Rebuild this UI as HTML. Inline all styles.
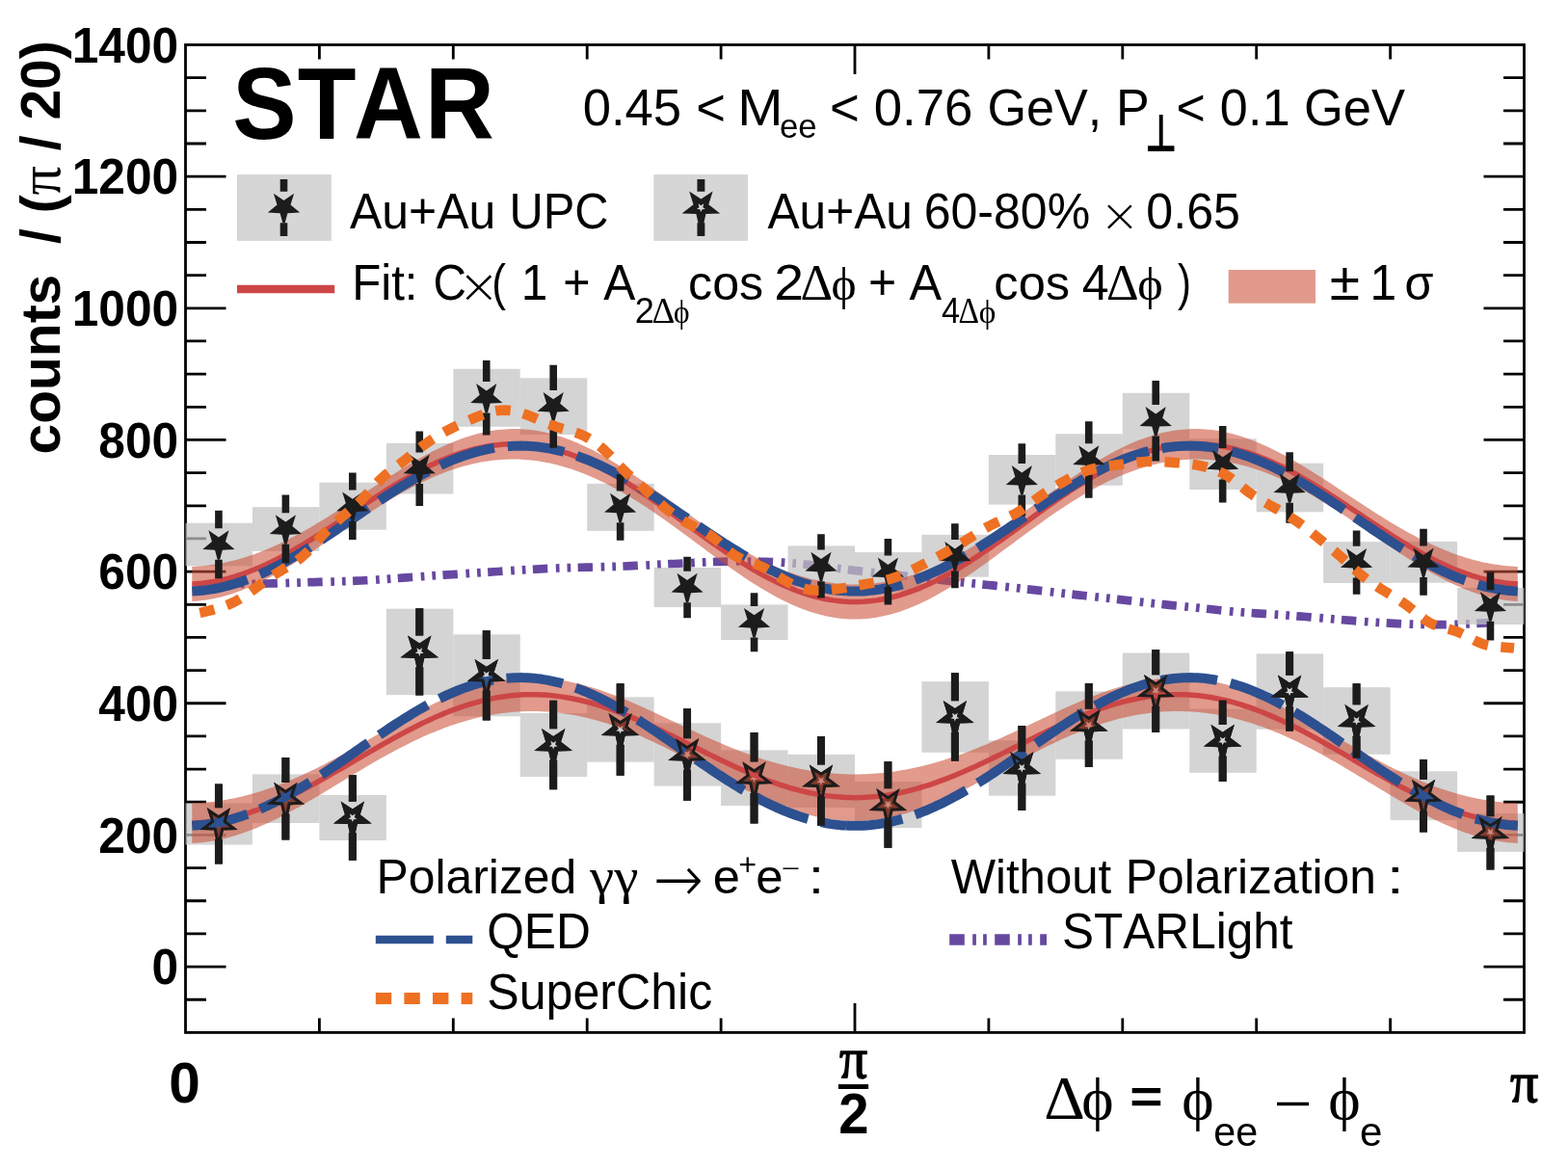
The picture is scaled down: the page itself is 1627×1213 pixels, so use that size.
<!DOCTYPE html>
<html lang="en">
<head>
<meta charset="utf-8">
<title>STAR azimuthal modulation</title>
<style>
html,body{margin:0;padding:0;background:#fff;}
body{width:1627px;height:1213px;overflow:hidden;}
svg{display:block;}
text{white-space:pre;}
</style>
</head>
<body>
<svg width="1627" height="1213" viewBox="0 0 1627 1213" role="img" aria-label="STAR azimuthal modulation plot">
<defs><path id="sf" d="M-10.6 -14.7 L0 -7.4 L10.6 -14.7 L7 -3 L16.6 5.1 L3.9 5.8 L1.2 15.8 L-1.2 15.8 L-3.9 5.8 L-16.6 5.1 L-7 -3Z" fill="#1c1c1c"/><path id="so1" d="M-12.2 -16.9 L0 -9 L12.2 -16.9 L7.9 -3.2 L19.8 5.9 L5 6.6 L2.7 17 L-2.7 17 L-5 6.6 L-19.8 5.9 L-7.9 -3.2ZM-2.9 -4.2 L0 -2.2 L2.9 -4.2 L1.9 -0.6 L4.4 1.5 L1.1 1.7 L0 4.6 L-1.1 1.7 L-4.4 1.5 L-1.9 -0.6Z" fill="#1c1c1c" fill-rule="evenodd"/><path id="so2" d="M-12.2 -16.9 L0 -9 L12.2 -16.9 L7.9 -3.2 L19.8 5.9 L5 6.6 L2.7 17 L-2.7 17 L-5 6.6 L-19.8 5.9 L-7.9 -3.2ZM-6.85 -9.86 L0 -5.43 L6.85 -9.86 L4.41 -2.09 L11.45 3.29 L2.57 3.71 L0.29 14 L-0.29 14 L-2.57 3.71 L-11.45 3.29 L-4.41 -2.09Z" fill="#1c1c1c" fill-rule="evenodd"/></defs>
<rect x="0" y="0" width="1627" height="1213" fill="#ffffff"/>
<g id="axes" stroke="#000000" stroke-width="2.8" fill="none" stroke-linecap="butt">
<rect x="192.5" y="46.5" width="1389" height="1024.9"/>
<path d="M192.5 1037.24h21.5M1581.5 1037.24h-21.5M192.5 1003.07h42M1581.5 1003.07h-42M192.5 968.91h21.5M1581.5 968.91h-21.5M192.5 934.75h21.5M1581.5 934.75h-21.5M192.5 900.58h21.5M1581.5 900.58h-21.5M192.5 866.42h42M1581.5 866.42h-42M192.5 832.26h21.5M1581.5 832.26h-21.5M192.5 798.09h21.5M1581.5 798.09h-21.5M192.5 763.93h21.5M1581.5 763.93h-21.5M192.5 729.77h42M1581.5 729.77h-42M192.5 695.6h21.5M1581.5 695.6h-21.5M192.5 661.44h21.5M1581.5 661.44h-21.5M192.5 627.28h21.5M1581.5 627.28h-21.5M192.5 593.11h42M1581.5 593.11h-42M192.5 558.95h21.5M1581.5 558.95h-21.5M192.5 524.79h21.5M1581.5 524.79h-21.5M192.5 490.62h21.5M1581.5 490.62h-21.5M192.5 456.46h42M1581.5 456.46h-42M192.5 422.3h21.5M1581.5 422.3h-21.5M192.5 388.13h21.5M1581.5 388.13h-21.5M192.5 353.97h21.5M1581.5 353.97h-21.5M192.5 319.81h42M1581.5 319.81h-42M192.5 285.64h21.5M1581.5 285.64h-21.5M192.5 251.48h21.5M1581.5 251.48h-21.5M192.5 217.32h21.5M1581.5 217.32h-21.5M192.5 183.15h42M1581.5 183.15h-42M192.5 148.99h21.5M1581.5 148.99h-21.5M192.5 114.83h21.5M1581.5 114.83h-21.5M192.5 80.66h21.5M1581.5 80.66h-21.5M331.4 1071.4v-15M331.4 46.5v15M470.3 1071.4v-15M470.3 46.5v15M609.2 1071.4v-15M609.2 46.5v15M748.1 1071.4v-15M748.1 46.5v15M887 1071.4v-30.5M887 46.5v30.5M1025.9 1071.4v-15M1025.9 46.5v15M1164.8 1071.4v-15M1164.8 46.5v15M1303.7 1071.4v-15M1303.7 46.5v15M1442.6 1071.4v-15M1442.6 46.5v15"/>
</g>
<path id="starlight" d="M248 606 L252.34 605.97 L256.68 605.93 L261.02 605.87 L265.36 605.8 L269.71 605.72 L274.05 605.62 L278.39 605.52 L282.73 605.4 L287.07 605.28 L291.41 605.15 L295.75 605.02 L300.09 604.89 L304.43 604.75 L308.78 604.61 L313.12 604.47 L317.46 604.33 L321.8 604.2 L326.14 604.07 L330.48 603.94 L334.82 603.82 L339.16 603.7 L343.51 603.57 L347.85 603.45 L352.19 603.32 L356.53 603.18 L360.87 603.03 L365.21 602.87 L369.55 602.69 L373.89 602.5 L378.23 602.28 L382.58 602.05 L386.92 601.79 L391.26 601.51 L395.6 601.22 L399.94 600.92 L404.28 600.61 L408.62 600.29 L412.96 599.97 L417.3 599.65 L421.65 599.32 L425.99 599 L430.33 598.69 L434.67 598.38 L439.01 598.08 L443.35 597.78 L447.69 597.49 L452.03 597.2 L456.37 596.92 L460.72 596.63 L465.06 596.35 L469.4 596.08 L473.74 595.8 L478.08 595.52 L482.42 595.24 L486.76 594.96 L491.1 594.68 L495.44 594.4 L499.79 594.12 L504.13 593.84 L508.47 593.56 L512.81 593.28 L517.15 592.99 L521.49 592.71 L525.83 592.43 L530.17 592.15 L534.52 591.87 L538.86 591.59 L543.2 591.32 L547.54 591.05 L551.88 590.8 L556.22 590.55 L560.56 590.31 L564.9 590.09 L569.24 589.88 L573.59 589.69 L577.93 589.52 L582.27 589.36 L586.61 589.22 L590.95 589.1 L595.29 588.98 L599.63 588.87 L603.97 588.77 L608.31 588.66 L612.66 588.56 L617 588.45 L621.34 588.34 L625.68 588.22 L630.02 588.09 L634.36 587.95 L638.7 587.81 L643.04 587.66 L647.38 587.5 L651.73 587.33 L656.07 587.15 L660.41 586.97 L664.75 586.77 L669.09 586.57 L673.43 586.35 L677.77 586.14 L682.11 585.91 L686.45 585.68 L690.8 585.45 L695.14 585.21 L699.48 584.97 L703.82 584.74 L708.16 584.51 L712.5 584.28 L716.84 584.05 L721.18 583.84 L725.53 583.63 L729.87 583.43 L734.21 583.24 L738.55 583.07 L742.89 582.92 L747.23 582.79 L751.57 582.67 L755.91 582.58 L760.25 582.52 L764.6 582.48 L768.94 582.46 L773.28 582.47 L777.62 582.51 L781.96 582.57 L786.3 582.65 L790.64 582.76 L794.98 582.89 L799.32 583.05 L803.67 583.24 L808.01 583.46 L812.35 583.71 L816.69 583.99 L821.03 584.3 L825.37 584.66 L829.71 585.05 L834.05 585.48 L838.39 585.94 L842.74 586.44 L847.08 586.95 L851.42 587.49 L855.76 588.04 L860.1 588.6 L864.44 589.17 L868.78 589.74 L873.12 590.3 L877.46 590.85 L881.81 591.38 L886.15 591.9 L890.49 592.41 L894.83 592.9 L899.17 593.38 L903.51 593.86 L907.85 594.32 L912.19 594.78 L916.54 595.24 L920.88 595.7 L925.22 596.16 L929.56 596.62 L933.9 597.08 L938.24 597.54 L942.58 598.02 L946.92 598.5 L951.26 598.98 L955.61 599.47 L959.95 599.95 L964.29 600.44 L968.63 600.93 L972.97 601.42 L977.31 601.91 L981.65 602.4 L985.99 602.88 L990.33 603.36 L994.68 603.84 L999.02 604.3 L1003.36 604.76 L1007.7 605.22 L1012.04 605.66 L1016.38 606.11 L1020.72 606.55 L1025.06 606.98 L1029.4 607.42 L1033.75 607.86 L1038.09 608.3 L1042.43 608.75 L1046.77 609.21 L1051.11 609.67 L1055.45 610.15 L1059.79 610.63 L1064.13 611.13 L1068.47 611.63 L1072.82 612.13 L1077.16 612.64 L1081.5 613.15 L1085.84 613.66 L1090.18 614.17 L1094.52 614.67 L1098.86 615.17 L1103.2 615.67 L1107.55 616.15 L1111.89 616.63 L1116.23 617.11 L1120.57 617.58 L1124.91 618.04 L1129.25 618.51 L1133.59 618.98 L1137.93 619.45 L1142.27 619.92 L1146.62 620.39 L1150.96 620.87 L1155.3 621.36 L1159.64 621.85 L1163.98 622.35 L1168.32 622.85 L1172.66 623.35 L1177 623.85 L1181.34 624.35 L1185.69 624.85 L1190.03 625.34 L1194.37 625.82 L1198.71 626.29 L1203.05 626.75 L1207.39 627.2 L1211.73 627.65 L1216.07 628.08 L1220.41 628.51 L1224.76 628.94 L1229.1 629.37 L1233.44 629.8 L1237.78 630.23 L1242.12 630.67 L1246.46 631.12 L1250.8 631.58 L1255.14 632.05 L1259.48 632.53 L1263.83 633 L1268.17 633.47 L1272.51 633.91 L1276.85 634.33 L1281.19 634.72 L1285.53 635.08 L1289.87 635.42 L1294.21 635.73 L1298.56 636.03 L1302.9 636.32 L1307.24 636.6 L1311.58 636.87 L1315.92 637.14 L1320.26 637.42 L1324.6 637.71 L1328.94 638 L1333.28 638.31 L1337.63 638.63 L1341.97 638.96 L1346.31 639.3 L1350.65 639.64 L1354.99 639.99 L1359.33 640.35 L1363.67 640.71 L1368.01 641.08 L1372.35 641.44 L1376.7 641.81 L1381.04 642.18 L1385.38 642.54 L1389.72 642.9 L1394.06 643.26 L1398.4 643.62 L1402.74 643.96 L1407.08 644.3 L1411.42 644.64 L1415.77 644.96 L1420.11 645.27 L1424.45 645.57 L1428.79 645.86 L1433.13 646.13 L1437.47 646.39 L1441.81 646.63 L1446.15 646.86 L1450.49 647.07 L1454.84 647.27 L1459.18 647.44 L1463.52 647.6 L1467.86 647.73 L1472.2 647.85 L1476.54 647.94 L1480.88 648.02 L1485.22 648.07 L1489.57 648.09 L1493.91 648.09 L1498.25 648.07 L1502.59 648.02 L1506.93 647.95 L1511.27 647.85 L1515.61 647.72 L1519.95 647.56 L1524.29 647.38 L1528.64 647.16 L1532.98 646.92 L1537.32 646.64 L1541.66 646.34 L1546 646" fill="none" stroke="#6648a0" stroke-width="8.7" stroke-dasharray="15.4 8.6 3.7 8 3.7 7.4" stroke-dashoffset="-24.5"/>
<g id="sysboxes" fill="#c4c4c4" fill-opacity="0.72">
<rect x="192.5" y="542.7" width="69.45" height="44.6"/>
<rect x="261.95" y="526.1" width="69.45" height="45.8"/>
<rect x="331.4" y="500.7" width="69.45" height="49"/>
<rect x="400.85" y="459.9" width="69.45" height="52.6"/>
<rect x="470.3" y="382.8" width="69.45" height="60"/>
<rect x="539.75" y="392.3" width="69.45" height="58.8"/>
<rect x="609.2" y="501.9" width="69.45" height="49"/>
<rect x="678.65" y="589" width="69.45" height="41"/>
<rect x="748.1" y="627.4" width="69.45" height="36.6"/>
<rect x="817.55" y="566.4" width="69.45" height="42"/>
<rect x="887" y="573.1" width="69.45" height="40.4"/>
<rect x="956.45" y="554.9" width="69.45" height="43.8"/>
<rect x="1025.9" y="472" width="69.45" height="51.6"/>
<rect x="1095.35" y="450.2" width="69.45" height="53.6"/>
<rect x="1164.8" y="407.8" width="69.45" height="58"/>
<rect x="1234.25" y="455.3" width="69.45" height="52.8"/>
<rect x="1303.7" y="480.7" width="69.45" height="50.6"/>
<rect x="1373.15" y="562.2" width="69.45" height="42.8"/>
<rect x="1442.6" y="561.9" width="69.45" height="42.8"/>
<rect x="1512.05" y="610" width="69.45" height="38"/>
<rect x="192.5" y="833.4" width="69.45" height="43.2"/>
<rect x="261.95" y="803.4" width="69.45" height="50.6"/>
<rect x="331.4" y="825" width="69.45" height="47"/>
<rect x="400.85" y="631.7" width="69.45" height="89.4"/>
<rect x="470.3" y="658.3" width="69.45" height="85"/>
<rect x="539.75" y="740" width="69.45" height="66"/>
<rect x="609.2" y="723.3" width="69.45" height="67.4"/>
<rect x="678.65" y="750.3" width="69.45" height="65.4"/>
<rect x="748.1" y="778.4" width="69.45" height="57.6"/>
<rect x="817.55" y="782.8" width="69.45" height="55.2"/>
<rect x="887" y="811" width="69.45" height="48"/>
<rect x="956.45" y="707.2" width="69.45" height="73.6"/>
<rect x="1025.9" y="768.3" width="69.45" height="57.4"/>
<rect x="1095.35" y="717.4" width="69.45" height="70.4"/>
<rect x="1164.8" y="677.5" width="69.45" height="79"/>
<rect x="1234.25" y="735.6" width="69.45" height="66.2"/>
<rect x="1303.7" y="678.3" width="69.45" height="78.4"/>
<rect x="1373.15" y="713.2" width="69.45" height="69.6"/>
<rect x="1442.6" y="800.3" width="69.45" height="50.8"/>
<rect x="1512.05" y="844.1" width="69.45" height="39.8"/>
</g>
<g id="pts_per_under">
<path d="M226.92 813.4V838.2M226.92 870.8V896.6" stroke="#1c1c1c" stroke-width="7.9" fill="none"/><use href="#so1" x="226.92" y="855"/>
<path d="M296.38 785.9V811.9M296.38 844.5V871.5" stroke="#1c1c1c" stroke-width="7.9" fill="none"/><use href="#so1" x="296.38" y="828.7"/>
<path d="M365.82 804.2V831.7M365.82 864.3V892.8" stroke="#1c1c1c" stroke-width="7.9" fill="none"/><use href="#so1" x="365.82" y="848.5"/>
<path d="M435.28 631.3V659.6M435.28 692.2V721.5" stroke="#1c1c1c" stroke-width="7.9" fill="none"/><use href="#so1" x="435.28" y="676.4"/>
<path d="M504.73 654.2V684M504.73 716.6V747.4" stroke="#1c1c1c" stroke-width="7.9" fill="none"/><use href="#so1" x="504.73" y="700.8"/>
<path d="M574.18 726.8V756.2M574.18 788.8V819.2" stroke="#1c1c1c" stroke-width="7.9" fill="none"/><use href="#so1" x="574.18" y="773"/>
<path d="M643.62 709.2V740.2M643.62 772.8V804.8" stroke="#1c1c1c" stroke-width="7.9" fill="none"/><use href="#so1" x="643.62" y="757"/>
<path d="M713.08 735.2V766.2M713.08 798.8V830.8" stroke="#1c1c1c" stroke-width="7.9" fill="none"/><use href="#so1" x="713.08" y="783"/>
<path d="M782.53 760V790.4M782.53 823V854.4" stroke="#1c1c1c" stroke-width="7.9" fill="none"/><use href="#so1" x="782.53" y="807.2"/>
<path d="M851.98 764.1V793.6M851.98 826.2V856.7" stroke="#1c1c1c" stroke-width="7.9" fill="none"/><use href="#so1" x="851.98" y="810.4"/>
<path d="M921.43 790.2V818.2M921.43 850.8V879.8" stroke="#1c1c1c" stroke-width="7.9" fill="none"/><use href="#so1" x="921.43" y="835"/>
<path d="M990.88 698.2V727.2M990.88 759.8V789.8" stroke="#1c1c1c" stroke-width="7.9" fill="none"/><use href="#so1" x="990.88" y="744"/>
<path d="M1060.33 753.1V780.2M1060.33 812.8V840.9" stroke="#1c1c1c" stroke-width="7.9" fill="none"/><use href="#so1" x="1060.33" y="797"/>
<path d="M1129.78 709.1V735.8M1129.78 768.4V796.1" stroke="#1c1c1c" stroke-width="7.9" fill="none"/><use href="#so1" x="1129.78" y="752.6"/>
<path d="M1199.23 674V700.2M1199.23 732.8V760" stroke="#1c1c1c" stroke-width="7.9" fill="none"/><use href="#so1" x="1199.23" y="717"/>
<path d="M1268.68 726.4V751.9M1268.68 784.5V811" stroke="#1c1c1c" stroke-width="7.9" fill="none"/><use href="#so1" x="1268.68" y="768.7"/>
<path d="M1338.12 676.3V700.7M1338.12 733.3V758.7" stroke="#1c1c1c" stroke-width="7.9" fill="none"/><use href="#so1" x="1338.12" y="717.5"/>
<path d="M1407.58 709.3V731.2M1407.58 763.8V786.7" stroke="#1c1c1c" stroke-width="7.9" fill="none"/><use href="#so1" x="1407.58" y="748"/>
<path d="M1477.03 787.9V808.9M1477.03 841.5V863.5" stroke="#1c1c1c" stroke-width="7.9" fill="none"/><use href="#so1" x="1477.03" y="825.7"/>
<path d="M1546.48 825.6V847.2M1546.48 879.8V902.4" stroke="#1c1c1c" stroke-width="7.9" fill="none"/><use href="#so1" x="1546.48" y="864"/>
</g>
<g id="bands" fill="#cb5139" fill-opacity="0.58">
<path d="M199.3 587.95 L202.75 587.79 L206.19 587.58 L209.64 587.3 L213.09 586.96 L216.54 586.56 L219.98 586.1 L223.43 585.57 L226.88 584.99 L230.33 584.34 L233.77 583.64 L237.22 582.87 L240.67 582.05 L244.12 581.17 L247.56 580.23 L251.01 579.23 L254.46 578.17 L257.91 577.06 L261.35 575.89 L264.8 574.67 L268.25 573.39 L271.69 572.06 L275.14 570.68 L278.59 569.25 L282.04 567.76 L285.48 566.23 L288.93 564.65 L292.38 563.02 L295.83 561.34 L299.27 559.62 L302.72 557.86 L306.17 556.05 L309.62 554.21 L313.06 552.32 L316.51 550.4 L319.96 548.44 L323.41 546.45 L326.85 544.42 L330.3 542.36 L333.75 540.28 L337.19 538.16 L340.64 536.02 L344.09 533.86 L347.54 531.67 L350.98 529.47 L354.43 527.24 L357.88 525 L361.33 522.75 L364.77 520.49 L368.22 518.22 L371.67 515.94 L375.12 513.66 L378.56 511.37 L382.01 509.09 L385.46 506.81 L388.91 504.53 L392.35 502.27 L395.8 500.01 L399.25 497.76 L402.69 495.54 L406.14 493.32 L409.59 491.13 L413.04 488.96 L416.48 486.82 L419.93 484.71 L423.38 482.62 L426.83 480.57 L430.27 478.55 L433.72 476.58 L437.17 474.64 L440.62 472.74 L444.06 470.89 L447.51 469.09 L450.96 467.34 L454.41 465.63 L457.85 463.99 L461.3 462.4 L464.75 460.86 L468.19 459.39 L471.64 457.98 L475.09 456.63 L478.54 455.35 L481.98 454.14 L485.43 453 L488.88 451.93 L492.33 450.93 L495.77 450 L499.22 449.15 L502.67 448.38 L506.12 447.69 L509.56 447.07 L513.01 446.53 L516.46 446.08 L519.91 445.7 L523.35 445.41 L526.8 445.2 L530.25 445.07 L533.69 445.02 L537.14 445.06 L540.59 445.18 L544.04 445.39 L547.48 445.68 L550.93 446.05 L554.38 446.51 L557.83 447.04 L561.27 447.66 L564.72 448.36 L568.17 449.14 L571.62 450 L575.06 450.94 L578.51 451.96 L581.96 453.05 L585.41 454.22 L588.85 455.46 L592.3 456.78 L595.75 458.16 L599.19 459.62 L602.64 461.14 L606.09 462.72 L609.54 464.38 L612.98 466.09 L616.43 467.86 L619.88 469.69 L623.33 471.58 L626.77 473.52 L630.22 475.51 L633.67 477.55 L637.12 479.64 L640.56 481.77 L644.01 483.94 L647.46 486.16 L650.91 488.4 L654.35 490.69 L657.8 493.01 L661.25 495.35 L664.69 497.72 L668.14 500.12 L671.59 502.54 L675.04 504.98 L678.48 507.43 L681.93 509.9 L685.38 512.38 L688.83 514.87 L692.27 517.36 L695.72 519.86 L699.17 522.36 L702.62 524.86 L706.06 527.35 L709.51 529.84 L712.96 532.32 L716.41 534.79 L719.85 537.25 L723.3 539.69 L726.75 542.11 L730.19 544.51 L733.64 546.89 L737.09 549.25 L740.54 551.58 L743.98 553.89 L747.43 556.16 L750.88 558.4 L754.33 560.61 L757.77 562.78 L761.22 564.91 L764.67 567.01 L768.12 569.06 L771.56 571.07 L775.01 573.04 L778.46 574.96 L781.91 576.84 L785.35 578.66 L788.8 580.44 L792.25 582.17 L795.69 583.85 L799.14 585.47 L802.59 587.04 L806.04 588.55 L809.48 590.01 L812.93 591.41 L816.38 592.75 L819.83 594.04 L823.27 595.26 L826.72 596.43 L830.17 597.53 L833.62 598.57 L837.06 599.55 L840.51 600.47 L843.96 601.32 L847.41 602.11 L850.85 602.83 L854.3 603.49 L857.75 604.09 L861.19 604.62 L864.64 605.08 L868.09 605.48 L871.54 605.81 L874.98 606.08 L878.43 606.27 L881.88 606.41 L885.33 606.47 L888.77 606.47 L892.22 606.4 L895.67 606.27 L899.12 606.07 L902.56 605.8 L906.01 605.47 L909.46 605.07 L912.91 604.6 L916.35 604.07 L919.8 603.47 L923.25 602.81 L926.69 602.09 L930.14 601.29 L933.59 600.44 L937.04 599.52 L940.48 598.54 L943.93 597.5 L947.38 596.39 L950.83 595.23 L954.27 594 L957.72 592.72 L961.17 591.37 L964.62 589.97 L968.06 588.51 L971.51 586.99 L974.96 585.42 L978.41 583.8 L981.85 582.12 L985.3 580.39 L988.75 578.61 L992.19 576.78 L995.64 574.91 L999.09 572.98 L1002.54 571.01 L1005.98 569 L1009.43 566.95 L1012.88 564.85 L1016.33 562.71 L1019.77 560.54 L1023.22 558.33 L1026.67 556.09 L1030.12 553.82 L1033.56 551.52 L1037.01 549.18 L1040.46 546.83 L1043.91 544.44 L1047.35 542.04 L1050.8 539.62 L1054.25 537.18 L1057.69 534.72 L1061.14 532.25 L1064.59 529.77 L1068.04 527.28 L1071.48 524.78 L1074.93 522.29 L1078.38 519.79 L1081.83 517.29 L1085.27 514.79 L1088.72 512.31 L1092.17 509.83 L1095.62 507.36 L1099.06 504.91 L1102.51 502.47 L1105.96 500.05 L1109.41 497.65 L1112.85 495.28 L1116.3 492.94 L1119.75 490.62 L1123.19 488.34 L1126.64 486.09 L1130.09 483.88 L1133.54 481.71 L1136.98 479.58 L1140.43 477.49 L1143.88 475.45 L1147.33 473.46 L1150.77 471.52 L1154.22 469.64 L1157.67 467.81 L1161.12 466.04 L1164.56 464.33 L1168.01 462.68 L1171.46 461.09 L1174.91 459.57 L1178.35 458.12 L1181.8 456.74 L1185.25 455.43 L1188.69 454.19 L1192.14 453.02 L1195.59 451.93 L1199.04 450.91 L1202.48 449.98 L1205.93 449.12 L1209.38 448.34 L1212.83 447.64 L1216.27 447.03 L1219.72 446.49 L1223.17 446.04 L1226.62 445.67 L1230.06 445.38 L1233.51 445.18 L1236.96 445.06 L1240.41 445.02 L1243.85 445.07 L1247.3 445.2 L1250.75 445.41 L1254.19 445.71 L1257.64 446.09 L1261.09 446.55 L1264.54 447.09 L1267.98 447.7 L1271.43 448.4 L1274.88 449.18 L1278.33 450.03 L1281.77 450.96 L1285.22 451.96 L1288.67 453.03 L1292.12 454.18 L1295.56 455.39 L1299.01 456.67 L1302.46 458.02 L1305.91 459.43 L1309.35 460.91 L1312.8 462.44 L1316.25 464.03 L1319.69 465.68 L1323.14 467.39 L1326.59 469.14 L1330.04 470.95 L1333.48 472.8 L1336.93 474.69 L1340.38 476.63 L1343.83 478.61 L1347.27 480.63 L1350.72 482.68 L1354.17 484.77 L1357.62 486.88 L1361.06 489.03 L1364.51 491.2 L1367.96 493.39 L1371.41 495.6 L1374.85 497.83 L1378.3 500.07 L1381.75 502.33 L1385.19 504.6 L1388.64 506.88 L1392.09 509.16 L1395.54 511.44 L1398.98 513.72 L1402.43 516.01 L1405.88 518.28 L1409.33 520.56 L1412.77 522.82 L1416.22 525.07 L1419.67 527.31 L1423.12 529.53 L1426.56 531.73 L1430.01 533.92 L1433.46 536.08 L1436.91 538.22 L1440.35 540.34 L1443.8 542.42 L1447.25 544.48 L1450.69 546.51 L1454.14 548.5 L1457.59 550.46 L1461.04 552.38 L1464.48 554.26 L1467.93 556.11 L1471.38 557.91 L1474.83 559.67 L1478.27 561.39 L1481.72 563.07 L1485.17 564.69 L1488.62 566.27 L1492.06 567.81 L1495.51 569.29 L1498.96 570.72 L1502.41 572.1 L1505.85 573.43 L1509.3 574.71 L1512.75 575.93 L1516.19 577.09 L1519.64 578.2 L1523.09 579.26 L1526.54 580.25 L1529.98 581.19 L1533.43 582.07 L1536.88 582.9 L1540.33 583.66 L1543.77 584.36 L1547.22 585.01 L1550.67 585.59 L1554.12 586.11 L1557.56 586.57 L1561.01 586.97 L1564.46 587.31 L1567.91 587.58 L1571.35 587.8 L1574.8 587.95 L1574.8 623.95 L1571.35 623.75 L1567.91 623.46 L1564.46 623.09 L1561.01 622.64 L1557.56 622.11 L1554.12 621.49 L1550.67 620.8 L1547.22 620.03 L1543.77 619.18 L1540.33 618.25 L1536.88 617.24 L1533.43 616.17 L1529.98 615.02 L1526.54 613.79 L1523.09 612.5 L1519.64 611.14 L1516.19 609.71 L1512.75 608.22 L1509.3 606.67 L1505.85 605.05 L1502.41 603.38 L1498.96 601.64 L1495.51 599.86 L1492.06 598.02 L1488.62 596.13 L1485.17 594.2 L1481.72 592.21 L1478.27 590.19 L1474.83 588.13 L1471.38 586.02 L1467.93 583.88 L1464.48 581.71 L1461.04 579.51 L1457.59 577.28 L1454.14 575.03 L1450.69 572.75 L1447.25 570.45 L1443.8 568.14 L1440.35 565.81 L1436.91 563.46 L1433.46 561.11 L1430.01 558.75 L1426.56 556.39 L1423.12 554.02 L1419.67 551.66 L1416.22 549.29 L1412.77 546.94 L1409.33 544.59 L1405.88 542.25 L1402.43 539.92 L1398.98 537.61 L1395.54 535.31 L1392.09 533.04 L1388.64 530.78 L1385.19 528.55 L1381.75 526.34 L1378.3 524.17 L1374.85 522.02 L1371.41 519.9 L1367.96 517.82 L1364.51 515.77 L1361.06 513.76 L1357.62 511.79 L1354.17 509.86 L1350.72 507.97 L1347.27 506.12 L1343.83 504.32 L1340.38 502.57 L1336.93 500.86 L1333.48 499.21 L1330.04 497.6 L1326.59 496.05 L1323.14 494.55 L1319.69 493.1 L1316.25 491.71 L1312.8 490.37 L1309.35 489.09 L1305.91 487.87 L1302.46 486.71 L1299.01 485.61 L1295.56 484.57 L1292.12 483.59 L1288.67 482.67 L1285.22 481.81 L1281.77 481.02 L1278.33 480.29 L1274.88 479.62 L1271.43 479.02 L1267.98 478.48 L1264.54 478.01 L1261.09 477.61 L1257.64 477.26 L1254.19 476.99 L1250.75 476.78 L1247.3 476.64 L1243.85 476.57 L1240.41 476.56 L1236.96 476.61 L1233.51 476.74 L1230.06 476.93 L1226.62 477.19 L1223.17 477.51 L1219.72 477.9 L1216.27 478.36 L1212.83 478.88 L1209.38 479.47 L1205.93 480.12 L1202.48 480.84 L1199.04 481.63 L1195.59 482.47 L1192.14 483.39 L1188.69 484.36 L1185.25 485.4 L1181.8 486.5 L1178.35 487.66 L1174.91 488.88 L1171.46 490.17 L1168.01 491.51 L1164.56 492.91 L1161.12 494.37 L1157.67 495.89 L1154.22 497.46 L1150.77 499.09 L1147.33 500.77 L1143.88 502.5 L1140.43 504.29 L1136.98 506.13 L1133.54 508.01 L1130.09 509.95 L1126.64 511.93 L1123.19 513.96 L1119.75 516.03 L1116.3 518.14 L1112.85 520.29 L1109.41 522.49 L1105.96 524.72 L1102.51 526.98 L1099.06 529.28 L1095.62 531.61 L1092.17 533.97 L1088.72 536.36 L1085.27 538.78 L1081.83 541.22 L1078.38 543.68 L1074.93 546.16 L1071.48 548.66 L1068.04 551.17 L1064.59 553.7 L1061.14 556.24 L1057.69 558.78 L1054.25 561.34 L1050.8 563.89 L1047.35 566.45 L1043.91 569 L1040.46 571.56 L1037.01 574.1 L1033.56 576.63 L1030.12 579.16 L1026.67 581.67 L1023.22 584.16 L1019.77 586.63 L1016.33 589.08 L1012.88 591.5 L1009.43 593.9 L1005.98 596.27 L1002.54 598.6 L999.09 600.9 L995.64 603.16 L992.19 605.38 L988.75 607.56 L985.3 609.69 L981.85 611.78 L978.41 613.81 L974.96 615.79 L971.51 617.71 L968.06 619.58 L964.62 621.39 L961.17 623.14 L957.72 624.82 L954.27 626.43 L950.83 627.98 L947.38 629.46 L943.93 630.87 L940.48 632.2 L937.04 633.46 L933.59 634.64 L930.14 635.75 L926.69 636.77 L923.25 637.72 L919.8 638.58 L916.35 639.36 L912.91 640.05 L909.46 640.66 L906.01 641.19 L902.56 641.63 L899.12 641.98 L895.67 642.24 L892.22 642.42 L888.77 642.51 L885.33 642.51 L881.88 642.42 L878.43 642.25 L874.98 641.99 L871.54 641.64 L868.09 641.2 L864.64 640.68 L861.19 640.07 L857.75 639.38 L854.3 638.6 L850.85 637.74 L847.41 636.8 L843.96 635.78 L840.51 634.68 L837.06 633.5 L833.62 632.24 L830.17 630.91 L826.72 629.5 L823.27 628.03 L819.83 626.48 L816.38 624.87 L812.93 623.19 L809.48 621.44 L806.04 619.64 L802.59 617.77 L799.14 615.85 L795.69 613.87 L792.25 611.84 L788.8 609.75 L785.35 607.62 L781.91 605.45 L778.46 603.23 L775.01 600.97 L771.56 598.67 L768.12 596.34 L764.67 593.97 L761.22 591.57 L757.77 589.15 L754.33 586.7 L750.88 584.23 L747.43 581.74 L743.98 579.23 L740.54 576.71 L737.09 574.17 L733.64 571.63 L730.19 569.08 L726.75 566.52 L723.3 563.97 L719.85 561.41 L716.41 558.86 L712.96 556.31 L709.51 553.77 L706.06 551.25 L702.62 548.73 L699.17 546.23 L695.72 543.75 L692.27 541.29 L688.83 538.85 L685.38 536.43 L681.93 534.04 L678.48 531.68 L675.04 529.35 L671.59 527.05 L668.14 524.78 L664.69 522.55 L661.25 520.36 L657.8 518.2 L654.35 516.09 L650.91 514.02 L647.46 511.99 L644.01 510.01 L640.56 508.07 L637.12 506.18 L633.67 504.34 L630.22 502.56 L626.77 500.82 L623.33 499.14 L619.88 497.51 L616.43 495.93 L612.98 494.41 L609.54 492.95 L606.09 491.55 L602.64 490.21 L599.19 488.92 L595.75 487.7 L592.3 486.53 L588.85 485.43 L585.41 484.39 L581.96 483.41 L578.51 482.5 L575.06 481.65 L571.62 480.86 L568.17 480.14 L564.72 479.49 L561.27 478.9 L557.83 478.37 L554.38 477.91 L550.93 477.52 L547.48 477.2 L544.04 476.94 L540.59 476.74 L537.14 476.62 L533.69 476.56 L530.25 476.56 L526.8 476.64 L523.35 476.78 L519.91 476.98 L516.46 477.26 L513.01 477.59 L509.56 478 L506.12 478.47 L502.67 479 L499.22 479.6 L495.77 480.27 L492.33 481 L488.88 481.79 L485.43 482.64 L481.98 483.56 L478.54 484.54 L475.09 485.58 L471.64 486.68 L468.19 487.84 L464.75 489.06 L461.3 490.33 L457.85 491.67 L454.41 493.06 L450.96 494.5 L447.51 496 L444.06 497.56 L440.62 499.16 L437.17 500.82 L433.72 502.52 L430.27 504.27 L426.83 506.07 L423.38 507.92 L419.93 509.8 L416.48 511.73 L413.04 513.7 L409.59 515.71 L406.14 517.76 L402.69 519.84 L399.25 521.96 L395.8 524.1 L392.35 526.28 L388.91 528.49 L385.46 530.72 L382.01 532.97 L378.56 535.25 L375.12 537.54 L371.67 539.85 L368.22 542.18 L364.77 544.52 L361.33 546.87 L357.88 549.23 L354.43 551.59 L350.98 553.95 L347.54 556.32 L344.09 558.68 L340.64 561.04 L337.19 563.4 L333.75 565.74 L330.3 568.07 L326.85 570.39 L323.41 572.68 L319.96 574.96 L316.51 577.22 L313.06 579.45 L309.62 581.65 L306.17 583.82 L302.72 585.96 L299.27 588.07 L295.83 590.13 L292.38 592.16 L288.93 594.14 L285.48 596.08 L282.04 597.97 L278.59 599.81 L275.14 601.59 L271.69 603.33 L268.25 605 L264.8 606.62 L261.35 608.18 L257.91 609.67 L254.46 611.1 L251.01 612.46 L247.56 613.76 L244.12 614.98 L240.67 616.13 L237.22 617.21 L233.77 618.22 L230.33 619.15 L226.88 620 L223.43 620.78 L219.98 621.47 L216.54 622.09 L213.09 622.63 L209.64 623.08 L206.19 623.45 L202.75 623.74 L199.3 623.95Z"/>
<path d="M199.3 833.4 L202.75 833.27 L206.19 833.1 L209.64 832.88 L213.09 832.61 L216.54 832.29 L219.98 831.92 L223.43 831.5 L226.88 831.04 L230.33 830.52 L233.77 829.96 L237.22 829.35 L240.67 828.68 L244.12 827.98 L247.56 827.22 L251.01 826.42 L254.46 825.57 L257.91 824.67 L261.35 823.73 L264.8 822.74 L268.25 821.71 L271.69 820.64 L275.14 819.51 L278.59 818.35 L282.04 817.14 L285.48 815.89 L288.93 814.6 L292.38 813.27 L295.83 811.89 L299.27 810.48 L302.72 809.03 L306.17 807.54 L309.62 806.02 L313.06 804.46 L316.51 802.86 L319.96 801.23 L323.41 799.57 L326.85 797.88 L330.3 796.16 L333.75 794.41 L337.19 792.63 L340.64 790.83 L344.09 789 L347.54 787.15 L350.98 785.27 L354.43 783.38 L357.88 781.47 L361.33 779.54 L364.77 777.6 L368.22 775.64 L371.67 773.68 L375.12 771.7 L378.56 769.72 L382.01 767.73 L385.46 765.73 L388.91 763.73 L392.35 761.74 L395.8 759.74 L399.25 757.75 L402.69 755.77 L406.14 753.79 L409.59 751.83 L413.04 749.88 L416.48 747.94 L419.93 746.01 L423.38 744.11 L426.83 742.23 L430.27 740.37 L433.72 738.53 L437.17 736.72 L440.62 734.95 L444.06 733.2 L447.51 731.48 L450.96 729.8 L454.41 728.16 L457.85 726.55 L461.3 724.99 L464.75 723.47 L468.19 721.99 L471.64 720.56 L475.09 719.18 L478.54 717.85 L481.98 716.56 L485.43 715.33 L488.88 714.16 L492.33 713.03 L495.77 711.97 L499.22 710.96 L502.67 710.01 L506.12 709.12 L509.56 708.3 L513.01 707.53 L516.46 706.83 L519.91 706.19 L523.35 705.61 L526.8 705.1 L530.25 704.65 L533.69 704.27 L537.14 703.95 L540.59 703.7 L544.04 703.51 L547.48 703.39 L550.93 703.34 L554.38 703.35 L557.83 703.43 L561.27 703.57 L564.72 703.77 L568.17 704.04 L571.62 704.38 L575.06 704.77 L578.51 705.23 L581.96 705.74 L585.41 706.32 L588.85 706.95 L592.3 707.65 L595.75 708.4 L599.19 709.2 L602.64 710.06 L606.09 710.96 L609.54 711.92 L612.98 712.93 L616.43 713.99 L619.88 715.09 L623.33 716.24 L626.77 717.43 L630.22 718.66 L633.67 719.93 L637.12 721.23 L640.56 722.58 L644.01 723.95 L647.46 725.36 L650.91 726.79 L654.35 728.25 L657.8 729.74 L661.25 731.25 L664.69 732.79 L668.14 734.34 L671.59 735.91 L675.04 737.49 L678.48 739.09 L681.93 740.7 L685.38 742.32 L688.83 743.95 L692.27 745.58 L695.72 747.22 L699.17 748.86 L702.62 750.5 L706.06 752.13 L709.51 753.76 L712.96 755.39 L716.41 757.01 L719.85 758.62 L723.3 760.22 L726.75 761.81 L730.19 763.39 L733.64 764.95 L737.09 766.49 L740.54 768.02 L743.98 769.52 L747.43 771.01 L750.88 772.47 L754.33 773.91 L757.77 775.33 L761.22 776.72 L764.67 778.08 L768.12 779.42 L771.56 780.72 L775.01 782 L778.46 783.24 L781.91 784.46 L785.35 785.64 L788.8 786.79 L792.25 787.9 L795.69 788.98 L799.14 790.03 L802.59 791.04 L806.04 792.01 L809.48 792.95 L812.93 793.84 L816.38 794.7 L819.83 795.53 L823.27 796.31 L826.72 797.05 L830.17 797.76 L833.62 798.42 L837.06 799.04 L840.51 799.63 L843.96 800.17 L847.41 800.67 L850.85 801.13 L854.3 801.55 L857.75 801.93 L861.19 802.26 L864.64 802.56 L868.09 802.81 L871.54 803.02 L874.98 803.19 L878.43 803.31 L881.88 803.4 L885.33 803.44 L888.77 803.44 L892.22 803.4 L895.67 803.31 L899.12 803.18 L902.56 803.01 L906.01 802.8 L909.46 802.55 L912.91 802.25 L916.35 801.92 L919.8 801.54 L923.25 801.12 L926.69 800.66 L930.14 800.15 L933.59 799.61 L937.04 799.03 L940.48 798.4 L943.93 797.74 L947.38 797.03 L950.83 796.29 L954.27 795.5 L957.72 794.68 L961.17 793.82 L964.62 792.92 L968.06 791.98 L971.51 791.01 L974.96 790 L978.41 788.95 L981.85 787.87 L985.3 786.76 L988.75 785.61 L992.19 784.42 L995.64 783.21 L999.09 781.96 L1002.54 780.68 L1005.98 779.38 L1009.43 778.04 L1012.88 776.68 L1016.33 775.29 L1019.77 773.87 L1023.22 772.43 L1026.67 770.97 L1030.12 769.48 L1033.56 767.97 L1037.01 766.45 L1040.46 764.9 L1043.91 763.34 L1047.35 761.77 L1050.8 760.18 L1054.25 758.58 L1057.69 756.97 L1061.14 755.34 L1064.59 753.72 L1068.04 752.08 L1071.48 750.45 L1074.93 748.81 L1078.38 747.17 L1081.83 745.53 L1085.27 743.9 L1088.72 742.28 L1092.17 740.66 L1095.62 739.05 L1099.06 737.45 L1102.51 735.86 L1105.96 734.29 L1109.41 732.74 L1112.85 731.21 L1116.3 729.7 L1119.75 728.21 L1123.19 726.75 L1126.64 725.31 L1130.09 723.91 L1133.54 722.54 L1136.98 721.2 L1140.43 719.89 L1143.88 718.62 L1147.33 717.39 L1150.77 716.21 L1154.22 715.06 L1157.67 713.96 L1161.12 712.9 L1164.56 711.9 L1168.01 710.94 L1171.46 710.03 L1174.91 709.17 L1178.35 708.37 L1181.8 707.63 L1185.25 706.94 L1188.69 706.3 L1192.14 705.73 L1195.59 705.21 L1199.04 704.76 L1202.48 704.37 L1205.93 704.04 L1209.38 703.77 L1212.83 703.56 L1216.27 703.43 L1219.72 703.35 L1223.17 703.34 L1226.62 703.4 L1230.06 703.52 L1233.51 703.71 L1236.96 703.96 L1240.41 704.28 L1243.85 704.66 L1247.3 705.11 L1250.75 705.63 L1254.19 706.2 L1257.64 706.85 L1261.09 707.55 L1264.54 708.32 L1267.98 709.15 L1271.43 710.04 L1274.88 710.99 L1278.33 712 L1281.77 713.07 L1285.22 714.19 L1288.67 715.37 L1292.12 716.6 L1295.56 717.88 L1299.01 719.22 L1302.46 720.6 L1305.91 722.04 L1309.35 723.51 L1312.8 725.04 L1316.25 726.6 L1319.69 728.21 L1323.14 729.85 L1326.59 731.53 L1330.04 733.25 L1333.48 735 L1336.93 736.78 L1340.38 738.59 L1343.83 740.42 L1347.27 742.28 L1350.72 744.17 L1354.17 746.07 L1357.62 747.99 L1361.06 749.93 L1364.51 751.89 L1367.96 753.85 L1371.41 755.83 L1374.85 757.81 L1378.3 759.8 L1381.75 761.8 L1385.19 763.79 L1388.64 765.79 L1392.09 767.78 L1395.54 769.77 L1398.98 771.76 L1402.43 773.73 L1405.88 775.7 L1409.33 777.66 L1412.77 779.6 L1416.22 781.53 L1419.67 783.44 L1423.12 785.33 L1426.56 787.2 L1430.01 789.05 L1433.46 790.88 L1436.91 792.68 L1440.35 794.46 L1443.8 796.21 L1447.25 797.93 L1450.69 799.62 L1454.14 801.28 L1457.59 802.91 L1461.04 804.5 L1464.48 806.06 L1467.93 807.59 L1471.38 809.07 L1474.83 810.52 L1478.27 811.93 L1481.72 813.31 L1485.17 814.64 L1488.62 815.93 L1492.06 817.18 L1495.51 818.38 L1498.96 819.55 L1502.41 820.67 L1505.85 821.74 L1509.3 822.77 L1512.75 823.76 L1516.19 824.7 L1519.64 825.6 L1523.09 826.44 L1526.54 827.24 L1529.98 828 L1533.43 828.7 L1536.88 829.36 L1540.33 829.97 L1543.77 830.54 L1547.22 831.05 L1550.67 831.52 L1554.12 831.93 L1557.56 832.3 L1561.01 832.62 L1564.46 832.89 L1567.91 833.11 L1571.35 833.28 L1574.8 833.4 L1574.8 874.95 L1571.35 874.77 L1567.91 874.52 L1564.46 874.2 L1561.01 873.8 L1557.56 873.33 L1554.12 872.79 L1550.67 872.17 L1547.22 871.49 L1543.77 870.74 L1540.33 869.93 L1536.88 869.04 L1533.43 868.09 L1529.98 867.08 L1526.54 866 L1523.09 864.86 L1519.64 863.66 L1516.19 862.4 L1512.75 861.09 L1509.3 859.72 L1505.85 858.29 L1502.41 856.82 L1498.96 855.29 L1495.51 853.72 L1492.06 852.1 L1488.62 850.43 L1485.17 848.73 L1481.72 846.98 L1478.27 845.2 L1474.83 843.38 L1471.38 841.52 L1467.93 839.64 L1464.48 837.73 L1461.04 835.78 L1457.59 833.82 L1454.14 831.83 L1450.69 829.82 L1447.25 827.79 L1443.8 825.75 L1440.35 823.69 L1436.91 821.62 L1433.46 819.54 L1430.01 817.46 L1426.56 815.37 L1423.12 813.27 L1419.67 811.18 L1416.22 809.08 L1412.77 806.99 L1409.33 804.91 L1405.88 802.83 L1402.43 800.76 L1398.98 798.7 L1395.54 796.65 L1392.09 794.62 L1388.64 792.61 L1385.19 790.61 L1381.75 788.63 L1378.3 786.68 L1374.85 784.75 L1371.41 782.84 L1367.96 780.95 L1364.51 779.1 L1361.06 777.27 L1357.62 775.48 L1354.17 773.71 L1350.72 771.98 L1347.27 770.28 L1343.83 768.62 L1340.38 766.99 L1336.93 765.4 L1333.48 763.84 L1330.04 762.33 L1326.59 760.85 L1323.14 759.42 L1319.69 758.03 L1316.25 756.68 L1312.8 755.37 L1309.35 754.11 L1305.91 752.89 L1302.46 751.71 L1299.01 750.59 L1295.56 749.5 L1292.12 748.47 L1288.67 747.48 L1285.22 746.54 L1281.77 745.64 L1278.33 744.8 L1274.88 744 L1271.43 743.25 L1267.98 742.55 L1264.54 741.9 L1261.09 741.3 L1257.64 740.75 L1254.19 740.25 L1250.75 739.8 L1247.3 739.41 L1243.85 739.06 L1240.41 738.76 L1236.96 738.51 L1233.51 738.32 L1230.06 738.17 L1226.62 738.08 L1223.17 738.04 L1219.72 738.04 L1216.27 738.1 L1212.83 738.21 L1209.38 738.37 L1205.93 738.58 L1202.48 738.85 L1199.04 739.16 L1195.59 739.52 L1192.14 739.93 L1188.69 740.4 L1185.25 740.91 L1181.8 741.47 L1178.35 742.08 L1174.91 742.74 L1171.46 743.45 L1168.01 744.2 L1164.56 745.01 L1161.12 745.85 L1157.67 746.75 L1154.22 747.69 L1150.77 748.68 L1147.33 749.71 L1143.88 750.79 L1140.43 751.91 L1136.98 753.07 L1133.54 754.28 L1130.09 755.52 L1126.64 756.81 L1123.19 758.13 L1119.75 759.49 L1116.3 760.89 L1112.85 762.33 L1109.41 763.8 L1105.96 765.31 L1102.51 766.84 L1099.06 768.41 L1095.62 770.01 L1092.17 771.64 L1088.72 773.29 L1085.27 774.97 L1081.83 776.68 L1078.38 778.4 L1074.93 780.15 L1071.48 781.92 L1068.04 783.7 L1064.59 785.5 L1061.14 787.32 L1057.69 789.15 L1054.25 790.98 L1050.8 792.83 L1047.35 794.68 L1043.91 796.54 L1040.46 798.4 L1037.01 800.26 L1033.56 802.11 L1030.12 803.97 L1026.67 805.82 L1023.22 807.66 L1019.77 809.48 L1016.33 811.3 L1012.88 813.11 L1009.43 814.89 L1005.98 816.66 L1002.54 818.41 L999.09 820.13 L995.64 821.83 L992.19 823.5 L988.75 825.14 L985.3 826.75 L981.85 828.32 L978.41 829.86 L974.96 831.37 L971.51 832.83 L968.06 834.25 L964.62 835.63 L961.17 836.96 L957.72 838.24 L954.27 839.48 L950.83 840.66 L947.38 841.8 L943.93 842.87 L940.48 843.9 L937.04 844.86 L933.59 845.77 L930.14 846.62 L926.69 847.41 L923.25 848.14 L919.8 848.8 L916.35 849.4 L912.91 849.94 L909.46 850.41 L906.01 850.82 L902.56 851.15 L899.12 851.43 L895.67 851.63 L892.22 851.77 L888.77 851.84 L885.33 851.84 L881.88 851.77 L878.43 851.63 L874.98 851.43 L871.54 851.16 L868.09 850.83 L864.64 850.42 L861.19 849.95 L857.75 849.42 L854.3 848.82 L850.85 848.16 L847.41 847.43 L843.96 846.65 L840.51 845.8 L837.06 844.89 L833.62 843.93 L830.17 842.9 L826.72 841.83 L823.27 840.7 L819.83 839.51 L816.38 838.28 L812.93 837 L809.48 835.67 L806.04 834.29 L802.59 832.87 L799.14 831.41 L795.69 829.91 L792.25 828.37 L788.8 826.79 L785.35 825.19 L781.91 823.55 L778.46 821.88 L775.01 820.18 L771.56 818.46 L768.12 816.71 L764.67 814.94 L761.22 813.16 L757.77 811.35 L754.33 809.54 L750.88 807.71 L747.43 805.87 L743.98 804.02 L740.54 802.17 L737.09 800.31 L733.64 798.45 L730.19 796.59 L726.75 794.73 L723.3 792.88 L719.85 791.04 L716.41 789.2 L712.96 787.37 L709.51 785.56 L706.06 783.76 L702.62 781.97 L699.17 780.2 L695.72 778.45 L692.27 776.73 L688.83 775.02 L685.38 773.34 L681.93 771.69 L678.48 770.06 L675.04 768.46 L671.59 766.89 L668.14 765.35 L664.69 763.84 L661.25 762.37 L657.8 760.94 L654.35 759.53 L650.91 758.17 L647.46 756.84 L644.01 755.56 L640.56 754.31 L637.12 753.11 L633.67 751.94 L630.22 750.82 L626.77 749.74 L623.33 748.71 L619.88 747.72 L616.43 746.78 L612.98 745.88 L609.54 745.03 L606.09 744.22 L602.64 743.47 L599.19 742.76 L595.75 742.1 L592.3 741.49 L588.85 740.92 L585.41 740.41 L581.96 739.95 L578.51 739.53 L575.06 739.17 L571.62 738.85 L568.17 738.59 L564.72 738.38 L561.27 738.22 L557.83 738.11 L554.38 738.04 L550.93 738.04 L547.48 738.08 L544.04 738.17 L540.59 738.31 L537.14 738.51 L533.69 738.75 L530.25 739.05 L526.8 739.39 L523.35 739.79 L519.91 740.24 L516.46 740.74 L513.01 741.29 L509.56 741.88 L506.12 742.53 L502.67 743.23 L499.22 743.98 L495.77 744.77 L492.33 745.62 L488.88 746.51 L485.43 747.45 L481.98 748.44 L478.54 749.47 L475.09 750.55 L471.64 751.68 L468.19 752.85 L464.75 754.07 L461.3 755.33 L457.85 756.64 L454.41 757.99 L450.96 759.38 L447.51 760.81 L444.06 762.29 L440.62 763.8 L437.17 765.35 L433.72 766.94 L430.27 768.57 L426.83 770.23 L423.38 771.93 L419.93 773.66 L416.48 775.42 L413.04 777.22 L409.59 779.05 L406.14 780.9 L402.69 782.78 L399.25 784.69 L395.8 786.62 L392.35 788.58 L388.91 790.55 L385.46 792.55 L382.01 794.56 L378.56 796.6 L375.12 798.64 L371.67 800.7 L368.22 802.77 L364.77 804.85 L361.33 806.93 L357.88 809.02 L354.43 811.12 L350.98 813.21 L347.54 815.31 L344.09 817.4 L340.64 819.48 L337.19 821.56 L333.75 823.63 L330.3 825.69 L326.85 827.73 L323.41 829.76 L319.96 831.77 L316.51 833.76 L313.06 835.73 L309.62 837.67 L306.17 839.58 L302.72 841.47 L299.27 843.32 L295.83 845.15 L292.38 846.93 L288.93 848.68 L285.48 850.38 L282.04 852.05 L278.59 853.67 L275.14 855.25 L271.69 856.77 L268.25 858.25 L264.8 859.68 L261.35 861.05 L257.91 862.36 L254.46 863.62 L251.01 864.83 L247.56 865.97 L244.12 867.05 L240.67 868.06 L237.22 869.01 L233.77 869.9 L230.33 870.72 L226.88 871.47 L223.43 872.16 L219.98 872.77 L216.54 873.31 L213.09 873.78 L209.64 874.18 L206.19 874.51 L202.75 874.77 L199.3 874.95Z"/>
</g>
<g id="fits" fill="none" stroke="#cd4646" stroke-width="5.5">
<path d="M199.3 605.95 L202.75 605.77 L206.19 605.51 L209.64 605.19 L213.09 604.79 L216.54 604.32 L219.98 603.79 L223.43 603.18 L226.88 602.5 L230.33 601.75 L233.77 600.93 L237.22 600.04 L240.67 599.09 L244.12 598.07 L247.56 596.99 L251.01 595.84 L254.46 594.64 L257.91 593.37 L261.35 592.03 L264.8 590.64 L268.25 589.2 L271.69 587.69 L275.14 586.14 L278.59 584.53 L282.04 582.86 L285.48 581.15 L288.93 579.39 L292.38 577.59 L295.83 575.74 L299.27 573.84 L302.72 571.91 L306.17 569.94 L309.62 567.93 L313.06 565.89 L316.51 563.81 L319.96 561.7 L323.41 559.57 L326.85 557.4 L330.3 555.22 L333.75 553.01 L337.19 550.78 L340.64 548.53 L344.09 546.27 L347.54 544 L350.98 541.71 L354.43 539.42 L357.88 537.12 L361.33 534.81 L364.77 532.5 L368.22 530.2 L371.67 527.9 L375.12 525.6 L378.56 523.31 L382.01 521.03 L385.46 518.76 L388.91 516.51 L392.35 514.27 L395.8 512.06 L399.25 509.86 L402.69 507.69 L406.14 505.54 L409.59 503.42 L413.04 501.33 L416.48 499.28 L419.93 497.26 L423.38 495.27 L426.83 493.32 L430.27 491.41 L433.72 489.55 L437.17 487.73 L440.62 485.95 L444.06 484.22 L447.51 482.55 L450.96 480.92 L454.41 479.35 L457.85 477.83 L461.3 476.37 L464.75 474.96 L468.19 473.61 L471.64 472.33 L475.09 471.11 L478.54 469.95 L481.98 468.85 L485.43 467.82 L488.88 466.86 L492.33 465.96 L495.77 465.14 L499.22 464.38 L502.67 463.69 L506.12 463.08 L509.56 462.53 L513.01 462.06 L516.46 461.67 L519.91 461.34 L523.35 461.09 L526.8 460.92 L530.25 460.82 L533.69 460.79 L537.14 460.84 L540.59 460.96 L544.04 461.16 L547.48 461.44 L550.93 461.79 L554.38 462.21 L557.83 462.71 L561.27 463.28 L564.72 463.93 L568.17 464.64 L571.62 465.43 L575.06 466.3 L578.51 467.23 L581.96 468.23 L585.41 469.31 L588.85 470.45 L592.3 471.65 L595.75 472.93 L599.19 474.27 L602.64 475.67 L606.09 477.14 L609.54 478.66 L612.98 480.25 L616.43 481.9 L619.88 483.6 L623.33 485.36 L626.77 487.17 L630.22 489.03 L633.67 490.95 L637.12 492.91 L640.56 494.92 L644.01 496.97 L647.46 499.07 L650.91 501.21 L654.35 503.39 L657.8 505.6 L661.25 507.85 L664.69 510.14 L668.14 512.45 L671.59 514.79 L675.04 517.16 L678.48 519.55 L681.93 521.97 L685.38 524.4 L688.83 526.86 L692.27 529.32 L695.72 531.8 L699.17 534.3 L702.62 536.79 L706.06 539.3 L709.51 541.81 L712.96 544.32 L716.41 546.82 L719.85 549.33 L723.3 551.83 L726.75 554.32 L730.19 556.8 L733.64 559.26 L737.09 561.71 L740.54 564.15 L743.98 566.56 L747.43 568.95 L750.88 571.31 L754.33 573.65 L757.77 575.96 L761.22 578.24 L764.67 580.49 L768.12 582.7 L771.56 584.87 L775.01 587 L778.46 589.09 L781.91 591.14 L785.35 593.14 L788.8 595.1 L792.25 597 L795.69 598.86 L799.14 600.66 L802.59 602.4 L806.04 604.09 L809.48 605.73 L812.93 607.3 L816.38 608.81 L819.83 610.26 L823.27 611.64 L826.72 612.96 L830.17 614.22 L833.62 615.41 L837.06 616.52 L840.51 617.57 L843.96 618.55 L847.41 619.45 L850.85 620.29 L854.3 621.05 L857.75 621.73 L861.19 622.34 L864.64 622.88 L868.09 623.34 L871.54 623.72 L874.98 624.03 L878.43 624.26 L881.88 624.42 L885.33 624.49 L888.77 624.49 L892.22 624.41 L895.67 624.26 L899.12 624.02 L902.56 623.71 L906.01 623.33 L909.46 622.87 L912.91 622.33 L916.35 621.71 L919.8 621.03 L923.25 620.26 L926.69 619.43 L930.14 618.52 L933.59 617.54 L937.04 616.49 L940.48 615.37 L943.93 614.18 L947.38 612.93 L950.83 611.61 L954.27 610.22 L957.72 608.77 L961.17 607.25 L964.62 605.68 L968.06 604.05 L971.51 602.35 L974.96 600.61 L978.41 598.8 L981.85 596.95 L985.3 595.04 L988.75 593.09 L992.19 591.08 L995.64 589.03 L999.09 586.94 L1002.54 584.81 L1005.98 582.63 L1009.43 580.42 L1012.88 578.18 L1016.33 575.9 L1019.77 573.59 L1023.22 571.25 L1026.67 568.88 L1030.12 566.49 L1033.56 564.08 L1037.01 561.64 L1040.46 559.19 L1043.91 556.72 L1047.35 554.24 L1050.8 551.75 L1054.25 549.26 L1057.69 546.75 L1061.14 544.24 L1064.59 541.73 L1068.04 539.23 L1071.48 536.72 L1074.93 534.22 L1078.38 531.73 L1081.83 529.25 L1085.27 526.79 L1088.72 524.33 L1092.17 521.9 L1095.62 519.49 L1099.06 517.09 L1102.51 514.72 L1105.96 512.38 L1109.41 510.07 L1112.85 507.79 L1116.3 505.54 L1119.75 503.32 L1123.19 501.15 L1126.64 499.01 L1130.09 496.91 L1133.54 494.86 L1136.98 492.85 L1140.43 490.89 L1143.88 488.98 L1147.33 487.12 L1150.77 485.31 L1154.22 483.55 L1157.67 481.85 L1161.12 480.2 L1164.56 478.62 L1168.01 477.09 L1171.46 475.63 L1174.91 474.23 L1178.35 472.89 L1181.8 471.62 L1185.25 470.41 L1188.69 469.27 L1192.14 468.2 L1195.59 467.2 L1199.04 466.27 L1202.48 465.41 L1205.93 464.62 L1209.38 463.91 L1212.83 463.26 L1216.27 462.69 L1219.72 462.2 L1223.17 461.78 L1226.62 461.43 L1230.06 461.16 L1233.51 460.96 L1236.96 460.84 L1240.41 460.79 L1243.85 460.82 L1247.3 460.92 L1250.75 461.1 L1254.19 461.35 L1257.64 461.68 L1261.09 462.08 L1264.54 462.55 L1267.98 463.09 L1271.43 463.71 L1274.88 464.4 L1278.33 465.16 L1281.77 465.99 L1285.22 466.88 L1288.67 467.85 L1292.12 468.88 L1295.56 469.98 L1299.01 471.14 L1302.46 472.37 L1305.91 473.65 L1309.35 475 L1312.8 476.41 L1316.25 477.87 L1319.69 479.39 L1323.14 480.97 L1326.59 482.59 L1330.04 484.27 L1333.48 486 L1336.93 487.78 L1340.38 489.6 L1343.83 491.47 L1347.27 493.38 L1350.72 495.33 L1354.17 497.31 L1357.62 499.34 L1361.06 501.39 L1364.51 503.48 L1367.96 505.6 L1371.41 507.75 L1374.85 509.92 L1378.3 512.12 L1381.75 514.34 L1385.19 516.58 L1388.64 518.83 L1392.09 521.1 L1395.54 523.38 L1398.98 525.67 L1402.43 527.96 L1405.88 530.27 L1409.33 532.57 L1412.77 534.88 L1416.22 537.18 L1419.67 539.48 L1423.12 541.78 L1426.56 544.06 L1430.01 546.34 L1433.46 548.6 L1436.91 550.84 L1440.35 553.07 L1443.8 555.28 L1447.25 557.47 L1450.69 559.63 L1454.14 561.76 L1457.59 563.87 L1461.04 565.94 L1464.48 567.99 L1467.93 570 L1471.38 571.97 L1474.83 573.9 L1478.27 575.79 L1481.72 577.64 L1485.17 579.45 L1488.62 581.2 L1492.06 582.91 L1495.51 584.57 L1498.96 586.18 L1502.41 587.74 L1505.85 589.24 L1509.3 590.69 L1512.75 592.07 L1516.19 593.4 L1519.64 594.67 L1523.09 595.88 L1526.54 597.02 L1529.98 598.1 L1533.43 599.12 L1536.88 600.07 L1540.33 600.95 L1543.77 601.77 L1547.22 602.52 L1550.67 603.19 L1554.12 603.8 L1557.56 604.34 L1561.01 604.81 L1564.46 605.2 L1567.91 605.52 L1571.35 605.77 L1574.8 605.95"/>
<path d="M199.3 854.17 L202.75 854.02 L206.19 853.81 L209.64 853.53 L213.09 853.2 L216.54 852.8 L219.98 852.35 L223.43 851.83 L226.88 851.25 L230.33 850.62 L233.77 849.93 L237.22 849.18 L240.67 848.37 L244.12 847.51 L247.56 846.59 L251.01 845.62 L254.46 844.6 L257.91 843.52 L261.35 842.39 L264.8 841.21 L268.25 839.98 L271.69 838.7 L275.14 837.38 L278.59 836.01 L282.04 834.6 L285.48 833.14 L288.93 831.64 L292.38 830.1 L295.83 828.52 L299.27 826.9 L302.72 825.25 L306.17 823.56 L309.62 821.84 L313.06 820.09 L316.51 818.31 L319.96 816.5 L323.41 814.67 L326.85 812.81 L330.3 810.92 L333.75 809.02 L337.19 807.1 L340.64 805.15 L344.09 803.2 L347.54 801.23 L350.98 799.24 L354.43 797.25 L357.88 795.25 L361.33 793.24 L364.77 791.22 L368.22 789.21 L371.67 787.19 L375.12 785.17 L378.56 783.16 L382.01 781.15 L385.46 779.14 L388.91 777.14 L392.35 775.16 L395.8 773.18 L399.25 771.22 L402.69 769.28 L406.14 767.35 L409.59 765.44 L413.04 763.55 L416.48 761.68 L419.93 759.84 L423.38 758.02 L426.83 756.23 L430.27 754.47 L433.72 752.74 L437.17 751.04 L440.62 749.37 L444.06 747.74 L447.51 746.15 L450.96 744.59 L454.41 743.07 L457.85 741.6 L461.3 740.16 L464.75 738.77 L468.19 737.42 L471.64 736.12 L475.09 734.87 L478.54 733.66 L481.98 732.5 L485.43 731.39 L488.88 730.33 L492.33 729.33 L495.77 728.37 L499.22 727.47 L502.67 726.62 L506.12 725.83 L509.56 725.09 L513.01 724.41 L516.46 723.78 L519.91 723.21 L523.35 722.7 L526.8 722.25 L530.25 721.85 L533.69 721.51 L537.14 721.23 L540.59 721.01 L544.04 720.84 L547.48 720.74 L550.93 720.69 L554.38 720.7 L557.83 720.77 L561.27 720.89 L564.72 721.08 L568.17 721.32 L571.62 721.62 L575.06 721.97 L578.51 722.38 L581.96 722.85 L585.41 723.37 L588.85 723.94 L592.3 724.57 L595.75 725.25 L599.19 725.98 L602.64 726.76 L606.09 727.59 L609.54 728.48 L612.98 729.41 L616.43 730.38 L619.88 731.41 L623.33 732.47 L626.77 733.59 L630.22 734.74 L633.67 735.94 L637.12 737.17 L640.56 738.44 L644.01 739.75 L647.46 741.1 L650.91 742.48 L654.35 743.89 L657.8 745.34 L661.25 746.81 L664.69 748.32 L668.14 749.84 L671.59 751.4 L675.04 752.98 L678.48 754.58 L681.93 756.19 L685.38 757.83 L688.83 759.49 L692.27 761.15 L695.72 762.84 L699.17 764.53 L702.62 766.23 L706.06 767.94 L709.51 769.66 L712.96 771.38 L716.41 773.11 L719.85 774.83 L723.3 776.55 L726.75 778.27 L730.19 779.99 L733.64 781.7 L737.09 783.4 L740.54 785.09 L743.98 786.77 L747.43 788.44 L750.88 790.09 L754.33 791.72 L757.77 793.34 L761.22 794.94 L764.67 796.51 L768.12 798.06 L771.56 799.59 L775.01 801.09 L778.46 802.56 L781.91 804 L785.35 805.41 L788.8 806.79 L792.25 808.14 L795.69 809.45 L799.14 810.72 L802.59 811.95 L806.04 813.15 L809.48 814.31 L812.93 815.42 L816.38 816.49 L819.83 817.52 L823.27 818.5 L826.72 819.44 L830.17 820.33 L833.62 821.17 L837.06 821.97 L840.51 822.71 L843.96 823.41 L847.41 824.05 L850.85 824.64 L854.3 825.19 L857.75 825.67 L861.19 826.11 L864.64 826.49 L868.09 826.82 L871.54 827.09 L874.98 827.31 L878.43 827.47 L881.88 827.58 L885.33 827.64 L888.77 827.64 L892.22 827.58 L895.67 827.47 L899.12 827.3 L902.56 827.08 L906.01 826.81 L909.46 826.48 L912.91 826.1 L916.35 825.66 L919.8 825.17 L923.25 824.63 L926.69 824.03 L930.14 823.39 L933.59 822.69 L937.04 821.95 L940.48 821.15 L943.93 820.31 L947.38 819.41 L950.83 818.47 L954.27 817.49 L957.72 816.46 L961.17 815.39 L964.62 814.27 L968.06 813.12 L971.51 811.92 L974.96 810.68 L978.41 809.41 L981.85 808.1 L985.3 806.75 L988.75 805.37 L992.19 803.96 L995.64 802.52 L999.09 801.05 L1002.54 799.54 L1005.98 798.02 L1009.43 796.47 L1012.88 794.89 L1016.33 793.29 L1019.77 791.68 L1023.22 790.04 L1026.67 788.39 L1030.12 786.72 L1033.56 785.04 L1037.01 783.35 L1040.46 781.65 L1043.91 779.94 L1047.35 778.22 L1050.8 776.5 L1054.25 774.78 L1057.69 773.06 L1061.14 771.33 L1064.59 769.61 L1068.04 767.89 L1071.48 766.18 L1074.93 764.48 L1078.38 762.79 L1081.83 761.11 L1085.27 759.44 L1088.72 757.78 L1092.17 756.15 L1095.62 754.53 L1099.06 752.93 L1102.51 751.35 L1105.96 749.8 L1109.41 748.27 L1112.85 746.77 L1116.3 745.3 L1119.75 743.85 L1123.19 742.44 L1126.64 741.06 L1130.09 739.72 L1133.54 738.41 L1136.98 737.13 L1140.43 735.9 L1143.88 734.71 L1147.33 733.55 L1150.77 732.44 L1154.22 731.38 L1157.67 730.36 L1161.12 729.38 L1164.56 728.45 L1168.01 727.57 L1171.46 726.74 L1174.91 725.96 L1178.35 725.23 L1181.8 724.55 L1185.25 723.92 L1188.69 723.35 L1192.14 722.83 L1195.59 722.37 L1199.04 721.96 L1202.48 721.61 L1205.93 721.31 L1209.38 721.07 L1212.83 720.89 L1216.27 720.76 L1219.72 720.7 L1223.17 720.69 L1226.62 720.74 L1230.06 720.85 L1233.51 721.01 L1236.96 721.24 L1240.41 721.52 L1243.85 721.86 L1247.3 722.26 L1250.75 722.71 L1254.19 723.23 L1257.64 723.8 L1261.09 724.43 L1264.54 725.11 L1267.98 725.85 L1271.43 726.65 L1274.88 727.49 L1278.33 728.4 L1281.77 729.35 L1285.22 730.36 L1288.67 731.42 L1292.12 732.53 L1295.56 733.69 L1299.01 734.9 L1302.46 736.16 L1305.91 737.46 L1309.35 738.81 L1312.8 740.2 L1316.25 741.64 L1319.69 743.12 L1323.14 744.64 L1326.59 746.19 L1330.04 747.79 L1333.48 749.42 L1336.93 751.09 L1340.38 752.79 L1343.83 754.52 L1347.27 756.28 L1350.72 758.07 L1354.17 759.89 L1357.62 761.73 L1361.06 763.6 L1364.51 765.49 L1367.96 767.4 L1371.41 769.33 L1374.85 771.28 L1378.3 773.24 L1381.75 775.22 L1385.19 777.2 L1388.64 779.2 L1392.09 781.2 L1395.54 783.21 L1398.98 785.23 L1402.43 787.25 L1405.88 789.26 L1409.33 791.28 L1412.77 793.3 L1416.22 795.3 L1419.67 797.31 L1423.12 799.3 L1426.56 801.28 L1430.01 803.25 L1433.46 805.21 L1436.91 807.15 L1440.35 809.08 L1443.8 810.98 L1447.25 812.86 L1450.69 814.72 L1454.14 816.56 L1457.59 818.36 L1461.04 820.14 L1464.48 821.89 L1467.93 823.61 L1471.38 825.3 L1474.83 826.95 L1478.27 828.57 L1481.72 830.14 L1485.17 831.68 L1488.62 833.18 L1492.06 834.64 L1495.51 836.05 L1498.96 837.42 L1502.41 838.74 L1505.85 840.02 L1509.3 841.25 L1512.75 842.42 L1516.19 843.55 L1519.64 844.63 L1523.09 845.65 L1526.54 846.62 L1529.98 847.54 L1533.43 848.4 L1536.88 849.2 L1540.33 849.95 L1543.77 850.64 L1547.22 851.27 L1550.67 851.85 L1554.12 852.36 L1557.56 852.81 L1561.01 853.21 L1564.46 853.54 L1567.91 853.81 L1571.35 854.03 L1574.8 854.18"/>
</g>
<g id="qed" fill="none" stroke="#2d5090" stroke-width="10" stroke-dasharray="59 14">
<path d="M199.3 613.48 L202.71 613.3 L206.12 613.05 L209.53 612.72 L212.94 612.33 L216.35 611.87 L219.76 611.33 L223.17 610.73 L226.58 610.06 L229.99 609.31 L233.41 608.51 L236.82 607.63 L240.23 606.69 L243.64 605.68 L247.05 604.61 L250.46 603.47 L253.87 602.27 L257.28 601.02 L260.69 599.7 L264.1 598.32 L267.51 596.89 L270.92 595.39 L274.33 593.85 L277.74 592.25 L281.15 590.6 L284.56 588.9 L287.97 587.16 L291.38 585.36 L294.8 583.52 L298.21 581.64 L301.62 579.72 L305.03 577.75 L308.44 575.75 L311.85 573.71 L315.26 571.64 L318.67 569.54 L322.08 567.41 L325.49 565.25 L328.9 563.06 L332.31 560.85 L335.72 558.62 L339.13 556.37 L342.54 554.1 L345.95 551.81 L349.36 549.52 L352.77 547.21 L356.19 544.89 L359.6 542.57 L363.01 540.24 L366.42 537.91 L369.83 535.58 L373.24 533.25 L376.65 530.93 L380.06 528.62 L383.47 526.31 L386.88 524.02 L390.29 521.73 L393.7 519.47 L397.11 517.22 L400.52 514.99 L403.93 512.79 L407.34 510.6 L410.75 508.45 L414.16 506.32 L417.58 504.22 L420.99 502.16 L424.4 500.12 L427.81 498.13 L431.22 496.17 L434.63 494.26 L438.04 492.38 L441.45 490.55 L444.86 488.76 L448.27 487.02 L451.68 485.33 L455.09 483.69 L458.5 482.1 L461.91 480.57 L465.32 479.09 L468.73 477.66 L472.14 476.29 L475.55 474.98 L478.97 473.74 L482.38 472.55 L485.79 471.42 L489.2 470.36 L492.61 469.37 L496.02 468.44 L499.43 467.57 L502.84 466.77 L506.25 466.04 L509.66 465.38 L513.07 464.79 L516.48 464.27 L519.89 463.82 L523.3 463.44 L526.71 463.13 L530.12 462.89 L533.53 462.72 L536.94 462.63 L540.36 462.6 L543.77 462.65 L547.18 462.77 L550.59 462.97 L554 463.23 L557.41 463.57 L560.82 463.97 L564.23 464.45 L567.64 465 L571.05 465.61 L574.46 466.3 L577.87 467.05 L581.28 467.87 L584.69 468.76 L588.1 469.72 L591.51 470.74 L594.92 471.82 L598.33 472.97 L601.75 474.18 L605.16 475.44 L608.57 476.77 L611.98 478.16 L615.39 479.61 L618.8 481.11 L622.21 482.66 L625.62 484.27 L629.03 485.93 L632.44 487.64 L635.85 489.39 L639.26 491.19 L642.67 493.04 L646.08 494.93 L649.49 496.86 L652.9 498.83 L656.31 500.84 L659.72 502.89 L663.14 504.96 L666.55 507.07 L669.96 509.21 L673.37 511.38 L676.78 513.57 L680.19 515.78 L683.6 518.02 L687.01 520.27 L690.42 522.54 L693.83 524.83 L697.24 527.13 L700.65 529.44 L704.06 531.76 L707.47 534.08 L710.88 536.41 L714.29 538.74 L717.7 541.07 L721.11 543.39 L724.53 545.71 L727.94 548.03 L731.35 550.33 L734.76 552.62 L738.17 554.9 L741.58 557.17 L744.99 559.41 L748.4 561.64 L751.81 563.84 L755.22 566.02 L758.63 568.17 L762.04 570.29 L765.45 572.38 L768.86 574.44 L772.27 576.47 L775.68 578.45 L779.09 580.4 L782.5 582.31 L785.92 584.18 L789.33 586 L792.74 587.78 L796.15 589.51 L799.56 591.2 L802.97 592.83 L806.38 594.41 L809.79 595.93 L813.2 597.4 L816.61 598.82 L820.02 600.17 L823.43 601.47 L826.84 602.71 L830.25 603.88 L833.66 605 L837.07 606.05 L840.48 607.03 L843.89 607.95 L847.31 608.8 L850.72 609.59 L854.13 610.3 L857.54 610.95 L860.95 611.53 L864.36 612.04 L867.77 612.48 L871.18 612.84 L874.59 613.14 L878 613.37"/>
<path d="M878 613.37 L881.5 613.52 L885 613.6 L888.5 613.61 L892.01 613.54 L895.51 613.4 L899.01 613.17 L902.51 612.88 L906.01 612.51 L909.51 612.06 L913.02 611.54 L916.52 610.94 L920.02 610.27 L923.52 609.53 L927.02 608.72 L930.52 607.84 L934.02 606.89 L937.53 605.86 L941.03 604.77 L944.53 603.62 L948.03 602.39 L951.53 601.11 L955.03 599.76 L958.53 598.35 L962.04 596.87 L965.54 595.34 L969.04 593.75 L972.54 592.11 L976.04 590.41 L979.54 588.66 L983.05 586.86 L986.55 585.01 L990.05 583.11 L993.55 581.17 L997.05 579.18 L1000.55 577.15 L1004.05 575.09 L1007.56 572.98 L1011.06 570.84 L1014.56 568.67 L1018.06 566.47 L1021.56 564.24 L1025.06 561.98 L1028.56 559.7 L1032.07 557.4 L1035.57 555.08 L1039.07 552.74 L1042.57 550.39 L1046.07 548.02 L1049.57 545.65 L1053.08 543.26 L1056.58 540.87 L1060.08 538.48 L1063.58 536.09 L1067.08 533.7 L1070.58 531.32 L1074.08 528.94 L1077.59 526.57 L1081.09 524.21 L1084.59 521.87 L1088.09 519.54 L1091.59 517.23 L1095.09 514.94 L1098.59 512.68 L1102.1 510.44 L1105.6 508.23 L1109.1 506.05 L1112.6 503.9 L1116.1 501.78 L1119.6 499.7 L1123.11 497.66 L1126.61 495.67 L1130.11 493.71 L1133.61 491.8 L1137.11 489.93 L1140.61 488.11 L1144.11 486.35 L1147.62 484.63 L1151.12 482.97 L1154.62 481.37 L1158.12 479.82 L1161.62 478.33 L1165.12 476.9 L1168.63 475.53 L1172.13 474.22 L1175.63 472.98 L1179.13 471.8 L1182.63 470.69 L1186.13 469.65 L1189.63 468.68 L1193.14 467.77 L1196.64 466.94 L1200.14 466.18 L1203.64 465.49 L1207.14 464.87 L1210.64 464.32 L1214.14 463.85 L1217.65 463.46 L1221.15 463.14 L1224.65 462.89 L1228.15 462.72 L1231.65 462.63 L1235.15 462.61 L1238.66 462.67 L1242.16 462.8 L1245.66 463.01 L1249.16 463.3 L1252.66 463.65 L1256.16 464.09 L1259.66 464.6 L1263.17 465.18 L1266.67 465.83 L1270.17 466.56 L1273.67 467.36 L1277.17 468.23 L1280.67 469.17 L1284.17 470.18 L1287.68 471.26 L1291.18 472.4 L1294.68 473.61 L1298.18 474.89 L1301.68 476.23 L1305.18 477.63 L1308.69 479.09 L1312.19 480.61 L1315.69 482.19 L1319.19 483.82 L1322.69 485.51 L1326.19 487.25 L1329.69 489.05 L1333.2 490.89 L1336.7 492.78 L1340.2 494.71 L1343.7 496.69 L1347.2 498.71 L1350.7 500.77 L1354.21 502.87 L1357.71 505 L1361.21 507.17 L1364.71 509.37 L1368.21 511.59 L1371.71 513.85 L1375.21 516.12 L1378.72 518.42 L1382.22 520.74 L1385.72 523.08 L1389.22 525.43 L1392.72 527.79 L1396.22 530.17 L1399.72 532.55 L1403.23 534.94 L1406.73 537.33 L1410.23 539.72 L1413.73 542.11 L1417.23 544.49 L1420.73 546.87 L1424.24 549.24 L1427.74 551.6 L1431.24 553.95 L1434.74 556.28 L1438.24 558.59 L1441.74 560.88 L1445.24 563.15 L1448.75 565.4 L1452.25 567.61 L1455.75 569.8 L1459.25 571.95 L1462.75 574.07 L1466.25 576.16 L1469.75 578.2 L1473.26 580.21 L1476.76 582.17 L1480.26 584.09 L1483.76 585.97 L1487.26 587.79 L1490.76 589.57 L1494.27 591.29 L1497.77 592.96 L1501.27 594.58 L1504.77 596.14 L1508.27 597.64 L1511.77 599.08 L1515.27 600.46 L1518.78 601.78 L1522.28 603.03 L1525.78 604.22 L1529.28 605.34 L1532.78 606.4 L1536.28 607.39 L1539.78 608.3 L1543.29 609.15 L1546.79 609.92 L1550.29 610.63 L1553.79 611.26 L1557.29 611.81 L1560.79 612.3 L1564.3 612.71 L1567.8 613.04 L1571.3 613.3 L1574.8 613.48"/>
<path d="M199.3 856.73 L202.71 856.55 L206.12 856.31 L209.53 856 L212.94 855.61 L216.35 855.16 L219.76 854.64 L223.17 854.06 L226.58 853.4 L229.99 852.68 L233.41 851.89 L236.82 851.04 L240.23 850.12 L243.64 849.14 L247.05 848.09 L250.46 846.98 L253.87 845.81 L257.28 844.58 L260.69 843.29 L264.1 841.94 L267.51 840.53 L270.92 839.06 L274.33 837.55 L277.74 835.97 L281.15 834.35 L284.56 832.67 L287.97 830.95 L291.38 829.18 L294.8 827.36 L298.21 825.49 L301.62 823.58 L305.03 821.63 L308.44 819.64 L311.85 817.62 L315.26 815.55 L318.67 813.45 L322.08 811.32 L325.49 809.16 L328.9 806.97 L332.31 804.75 L335.72 802.51 L339.13 800.25 L342.54 797.96 L345.95 795.66 L349.36 793.33 L352.77 791 L356.19 788.65 L359.6 786.3 L363.01 783.93 L366.42 781.56 L369.83 779.19 L373.24 776.81 L376.65 774.44 L380.06 772.07 L383.47 769.71 L386.88 767.35 L390.29 765.01 L393.7 762.67 L397.11 760.36 L400.52 758.06 L403.93 755.78 L407.34 753.52 L410.75 751.29 L414.16 749.08 L417.58 746.9 L420.99 744.75 L424.4 742.64 L427.81 740.56 L431.22 738.52 L434.63 736.51 L438.04 734.55 L441.45 732.63 L444.86 730.76 L448.27 728.93 L451.68 727.16 L455.09 725.43 L458.5 723.76 L461.91 722.14 L465.32 720.58 L468.73 719.08 L472.14 717.63 L475.55 716.25 L478.97 714.93 L482.38 713.67 L485.79 712.48 L489.2 711.36 L492.61 710.3 L496.02 709.31 L499.43 708.39 L502.84 707.55 L506.25 706.77 L509.66 706.07 L513.07 705.44 L516.48 704.88 L519.89 704.4 L523.3 703.99 L526.71 703.67 L530.12 703.41 L533.53 703.23 L536.94 703.13 L540.36 703.11 L543.77 703.16 L547.18 703.29 L550.59 703.5 L554 703.78 L557.41 704.13 L560.82 704.57 L564.23 705.07 L567.64 705.66 L571.05 706.31 L574.46 707.04 L577.87 707.84 L581.28 708.71 L584.69 709.66 L588.1 710.67 L591.51 711.75 L594.92 712.9 L598.33 714.11 L601.75 715.39 L605.16 716.74 L608.57 718.14 L611.98 719.61 L615.39 721.13 L618.8 722.71 L622.21 724.35 L625.62 726.04 L629.03 727.78 L632.44 729.58 L635.85 731.42 L639.26 733.31 L642.67 735.24 L646.08 737.22 L649.49 739.24 L652.9 741.29 L656.31 743.39 L659.72 745.51 L663.14 747.67 L666.55 749.86 L669.96 752.08 L673.37 754.32 L676.78 756.59 L680.19 758.87 L683.6 761.18 L687.01 763.5 L690.42 765.84 L693.83 768.19 L697.24 770.54 L700.65 772.91 L704.06 775.28 L707.47 777.66 L710.88 780.03 L714.29 782.4 L717.7 784.77 L721.11 787.13 L724.53 789.49 L727.94 791.83 L731.35 794.16 L734.76 796.48 L738.17 798.77 L741.58 801.05 L744.99 803.31 L748.4 805.54 L751.81 807.75 L755.22 809.93 L758.63 812.08 L762.04 814.2 L765.45 816.29 L768.86 818.34 L772.27 820.36 L775.68 822.33 L779.09 824.27 L782.5 826.16 L785.92 828.01 L789.33 829.81 L792.74 831.57 L796.15 833.28 L799.56 834.93 L802.97 836.54 L806.38 838.09 L809.79 839.59 L813.2 841.04 L816.61 842.42 L820.02 843.75 L823.43 845.02 L826.84 846.23 L830.25 847.38 L833.66 848.47 L837.07 849.5 L840.48 850.46 L843.89 851.35 L847.31 852.18 L850.72 852.95 L854.13 853.64 L857.54 854.27 L860.95 854.84 L864.36 855.33 L867.77 855.76 L871.18 856.11 L874.59 856.4 L878 856.62"/>
<path d="M878 856.62 L881.5 856.77 L885 856.85 L888.5 856.86 L892.01 856.79 L895.51 856.65 L899.01 856.43 L902.51 856.15 L906.01 855.78 L909.51 855.35 L913.02 854.84 L916.52 854.26 L920.02 853.61 L923.52 852.89 L927.02 852.1 L930.52 851.24 L934.02 850.31 L937.53 849.32 L941.03 848.25 L944.53 847.12 L948.03 845.93 L951.53 844.67 L955.03 843.35 L958.53 841.96 L962.04 840.52 L965.54 839.01 L969.04 837.45 L972.54 835.83 L976.04 834.16 L979.54 832.43 L983.05 830.65 L986.55 828.83 L990.05 826.95 L993.55 825.02 L997.05 823.05 L1000.55 821.04 L1004.05 818.98 L1007.56 816.89 L1011.06 814.76 L1014.56 812.59 L1018.06 810.39 L1021.56 808.16 L1025.06 805.89 L1028.56 803.6 L1032.07 801.29 L1035.57 798.95 L1039.07 796.59 L1042.57 794.22 L1046.07 791.82 L1049.57 789.42 L1053.08 787 L1056.58 784.58 L1060.08 782.14 L1063.58 779.71 L1067.08 777.27 L1070.58 774.83 L1074.08 772.4 L1077.59 769.97 L1081.09 767.55 L1084.59 765.14 L1088.09 762.75 L1091.59 760.37 L1095.09 758.01 L1098.59 755.67 L1102.1 753.35 L1105.6 751.06 L1109.1 748.8 L1112.6 746.57 L1116.1 744.37 L1119.6 742.2 L1123.11 740.07 L1126.61 737.99 L1130.11 735.94 L1133.61 733.94 L1137.11 731.99 L1140.61 730.08 L1144.11 728.23 L1147.62 726.42 L1151.12 724.68 L1154.62 722.99 L1158.12 721.35 L1161.62 719.78 L1165.12 718.27 L1168.63 716.82 L1172.13 715.44 L1175.63 714.13 L1179.13 712.88 L1182.63 711.7 L1186.13 710.6 L1189.63 709.57 L1193.14 708.61 L1196.64 707.72 L1200.14 706.91 L1203.64 706.18 L1207.14 705.52 L1210.64 704.94 L1214.14 704.44 L1217.65 704.02 L1221.15 703.68 L1224.65 703.42 L1228.15 703.24 L1231.65 703.14 L1235.15 703.12 L1238.66 703.18 L1242.16 703.32 L1245.66 703.54 L1249.16 703.85 L1252.66 704.23 L1256.16 704.69 L1259.66 705.23 L1263.17 705.85 L1266.67 706.55 L1270.17 707.32 L1273.67 708.17 L1277.17 709.09 L1280.67 710.09 L1284.17 711.16 L1287.68 712.3 L1291.18 713.52 L1294.68 714.8 L1298.18 716.15 L1301.68 717.56 L1305.18 719.04 L1308.69 720.59 L1312.19 722.19 L1315.69 723.85 L1319.19 725.57 L1322.69 727.35 L1326.19 729.18 L1329.69 731.06 L1333.2 732.99 L1336.7 734.97 L1340.2 736.99 L1343.7 739.06 L1347.2 741.17 L1350.7 743.31 L1354.21 745.5 L1357.71 747.71 L1361.21 749.96 L1364.71 752.24 L1368.21 754.55 L1371.71 756.87 L1375.21 759.23 L1378.72 761.6 L1382.22 763.98 L1385.72 766.39 L1389.22 768.8 L1392.72 771.22 L1396.22 773.66 L1399.72 776.09 L1403.23 778.53 L1406.73 780.97 L1410.23 783.4 L1413.73 785.83 L1417.23 788.25 L1420.73 790.66 L1424.24 793.06 L1427.74 795.45 L1431.24 797.81 L1434.74 800.16 L1438.24 802.49 L1441.74 804.79 L1445.24 807.06 L1448.75 809.31 L1452.25 811.53 L1455.75 813.71 L1459.25 815.86 L1462.75 817.98 L1466.25 820.05 L1469.75 822.08 L1473.26 824.08 L1476.76 826.02 L1480.26 827.92 L1483.76 829.78 L1487.26 831.58 L1490.76 833.33 L1494.27 835.03 L1497.77 836.68 L1501.27 838.26 L1504.77 839.8 L1508.27 841.27 L1511.77 842.68 L1515.27 844.03 L1518.78 845.32 L1522.28 846.55 L1525.78 847.71 L1529.28 848.81 L1532.78 849.84 L1536.28 850.8 L1539.78 851.69 L1543.29 852.52 L1546.79 853.27 L1550.29 853.96 L1553.79 854.57 L1557.29 855.11 L1560.79 855.58 L1564.3 855.98 L1567.8 856.3 L1571.3 856.55 L1574.8 856.73"/>
</g>
<g id="pts_per">
<path d="M226.92 813.4V838.2M226.92 870.8V896.6" stroke="#1c1c1c" stroke-width="7.9" fill="none"/><use href="#so2" x="226.92" y="855"/>
<path d="M296.38 785.9V811.9M296.38 844.5V871.5" stroke="#1c1c1c" stroke-width="7.9" fill="none"/><use href="#so2" x="296.38" y="828.7"/>
<path d="M365.82 804.2V831.7M365.82 864.3V892.8" stroke="#1c1c1c" stroke-width="7.9" fill="none"/><use href="#so2" x="365.82" y="848.5"/>
<path d="M435.28 631.3V659.6M435.28 692.2V721.5" stroke="#1c1c1c" stroke-width="7.9" fill="none"/><use href="#so2" x="435.28" y="676.4"/>
<path d="M504.73 654.2V684M504.73 716.6V747.4" stroke="#1c1c1c" stroke-width="7.9" fill="none"/><use href="#so2" x="504.73" y="700.8"/>
<path d="M574.18 726.8V756.2M574.18 788.8V819.2" stroke="#1c1c1c" stroke-width="7.9" fill="none"/><use href="#so2" x="574.18" y="773"/>
<path d="M643.62 709.2V740.2M643.62 772.8V804.8" stroke="#1c1c1c" stroke-width="7.9" fill="none"/><use href="#so2" x="643.62" y="757"/>
<path d="M713.08 735.2V766.2M713.08 798.8V830.8" stroke="#1c1c1c" stroke-width="7.9" fill="none"/><use href="#so2" x="713.08" y="783"/>
<path d="M782.53 760V790.4M782.53 823V854.4" stroke="#1c1c1c" stroke-width="7.9" fill="none"/><use href="#so2" x="782.53" y="807.2"/>
<path d="M851.98 764.1V793.6M851.98 826.2V856.7" stroke="#1c1c1c" stroke-width="7.9" fill="none"/><use href="#so2" x="851.98" y="810.4"/>
<path d="M921.43 790.2V818.2M921.43 850.8V879.8" stroke="#1c1c1c" stroke-width="7.9" fill="none"/><use href="#so2" x="921.43" y="835"/>
<path d="M990.88 698.2V727.2M990.88 759.8V789.8" stroke="#1c1c1c" stroke-width="7.9" fill="none"/><use href="#so2" x="990.88" y="744"/>
<path d="M1060.33 753.1V780.2M1060.33 812.8V840.9" stroke="#1c1c1c" stroke-width="7.9" fill="none"/><use href="#so2" x="1060.33" y="797"/>
<path d="M1129.78 709.1V735.8M1129.78 768.4V796.1" stroke="#1c1c1c" stroke-width="7.9" fill="none"/><use href="#so2" x="1129.78" y="752.6"/>
<path d="M1199.23 674V700.2M1199.23 732.8V760" stroke="#1c1c1c" stroke-width="7.9" fill="none"/><use href="#so2" x="1199.23" y="717"/>
<path d="M1268.68 726.4V751.9M1268.68 784.5V811" stroke="#1c1c1c" stroke-width="7.9" fill="none"/><use href="#so2" x="1268.68" y="768.7"/>
<path d="M1338.12 676.3V700.7M1338.12 733.3V758.7" stroke="#1c1c1c" stroke-width="7.9" fill="none"/><use href="#so2" x="1338.12" y="717.5"/>
<path d="M1407.58 709.3V731.2M1407.58 763.8V786.7" stroke="#1c1c1c" stroke-width="7.9" fill="none"/><use href="#so2" x="1407.58" y="748"/>
<path d="M1477.03 787.9V808.9M1477.03 841.5V863.5" stroke="#1c1c1c" stroke-width="7.9" fill="none"/><use href="#so2" x="1477.03" y="825.7"/>
<path d="M1546.48 825.6V847.2M1546.48 879.8V902.4" stroke="#1c1c1c" stroke-width="7.9" fill="none"/><use href="#so2" x="1546.48" y="864"/>
</g>
<g id="pts_upc">
<path d="M226.92 529.8V548.2M226.92 580.8V600.2" stroke="#1c1c1c" stroke-width="7.6" fill="none"/><use href="#sf" x="226.92" y="565"/>
<path d="M296.38 513.4V532.2M296.38 564.8V584.6" stroke="#1c1c1c" stroke-width="7.6" fill="none"/><use href="#sf" x="296.38" y="549"/>
<path d="M365.82 490.5V508.4M365.82 541V559.9" stroke="#1c1c1c" stroke-width="7.6" fill="none"/><use href="#sf" x="365.82" y="525.2"/>
<path d="M435.28 447.5V469.4M435.28 502V524.9" stroke="#1c1c1c" stroke-width="7.6" fill="none"/><use href="#sf" x="435.28" y="486.2"/>
<path d="M504.73 374.1V396M504.73 428.6V451.5" stroke="#1c1c1c" stroke-width="7.6" fill="none"/><use href="#sf" x="504.73" y="412.8"/>
<path d="M574.18 378.7V404.9M574.18 437.5V464.7" stroke="#1c1c1c" stroke-width="7.6" fill="none"/><use href="#sf" x="574.18" y="421.7"/>
<path d="M643.62 492.1V509.6M643.62 542.2V560.7" stroke="#1c1c1c" stroke-width="7.6" fill="none"/><use href="#sf" x="643.62" y="526.4"/>
<path d="M713.08 577.7V592.7M713.08 625.3V641.3" stroke="#1c1c1c" stroke-width="7.6" fill="none"/><use href="#sf" x="713.08" y="609.5"/>
<path d="M782.53 615.2V628.9M782.53 661.5V676.2" stroke="#1c1c1c" stroke-width="7.6" fill="none"/><use href="#sf" x="782.53" y="645.7"/>
<path d="M851.98 554.2V570.6M851.98 603.2V620.6" stroke="#1c1c1c" stroke-width="7.6" fill="none"/><use href="#sf" x="851.98" y="587.4"/>
<path d="M921.43 559V576.5M921.43 609.1V627.6" stroke="#1c1c1c" stroke-width="7.6" fill="none"/><use href="#sf" x="921.43" y="593.3"/>
<path d="M990.88 543.3V560M990.88 592.6V610.3" stroke="#1c1c1c" stroke-width="7.6" fill="none"/><use href="#sf" x="990.88" y="576.8"/>
<path d="M1060.33 460.2V481M1060.33 513.6V535.4" stroke="#1c1c1c" stroke-width="7.6" fill="none"/><use href="#sf" x="1060.33" y="497.8"/>
<path d="M1129.78 437.3V460.2M1129.78 492.8V516.7" stroke="#1c1c1c" stroke-width="7.6" fill="none"/><use href="#sf" x="1129.78" y="477"/>
<path d="M1199.23 395V420M1199.23 452.6V478.6" stroke="#1c1c1c" stroke-width="7.6" fill="none"/><use href="#sf" x="1199.23" y="436.8"/>
<path d="M1268.68 442V464.9M1268.68 497.5V521.4" stroke="#1c1c1c" stroke-width="7.6" fill="none"/><use href="#sf" x="1268.68" y="481.7"/>
<path d="M1338.12 469.3V489.2M1338.12 521.8V542.7" stroke="#1c1c1c" stroke-width="7.6" fill="none"/><use href="#sf" x="1338.12" y="506"/>
<path d="M1407.58 550.4V566.8M1407.58 599.4V616.8" stroke="#1c1c1c" stroke-width="7.6" fill="none"/><use href="#sf" x="1407.58" y="583.6"/>
<path d="M1477.03 548.8V566.5M1477.03 599.1V617.8" stroke="#1c1c1c" stroke-width="7.6" fill="none"/><use href="#sf" x="1477.03" y="583.3"/>
<path d="M1546.48 593.4V612.2M1546.48 644.8V664.6" stroke="#1c1c1c" stroke-width="7.6" fill="none"/><use href="#sf" x="1546.48" y="629"/>
</g>
<path id="superchic" d="M199.5 637.5 L202.59 636.84 L205.69 636.18 L208.8 635.51 L211.92 634.83 L215.04 634.12 L218.15 633.38 L221.25 632.59 L224.33 631.75 L227.39 630.85 L230.42 629.87 L233.41 628.81 L236.37 627.66 L239.28 626.41 L242.14 625.05 L244.94 623.59 L247.71 622.03 L250.43 620.39 L253.11 618.68 L255.77 616.91 L258.39 615.09 L261 613.24 L263.59 611.37 L266.16 609.5 L268.73 607.62 L271.3 605.74 L273.87 603.87 L276.45 602.02 L279.04 600.19 L281.65 598.39 L284.28 596.61 L286.95 594.87 L289.64 593.18 L292.37 591.52 L295.12 589.88 L297.87 588.25 L300.61 586.61 L303.32 584.93 L305.99 583.21 L308.61 581.43 L311.16 579.56 L313.62 577.58 L315.99 575.5 L318.27 573.32 L320.49 571.05 L322.65 568.72 L324.78 566.35 L326.89 563.95 L328.99 561.54 L331.1 559.14 L333.24 556.77 L335.42 554.45 L337.64 552.16 L339.89 549.92 L342.18 547.72 L344.5 545.55 L346.85 543.41 L349.22 541.29 L351.61 539.2 L354.02 537.12 L356.45 535.06 L358.88 533.01 L361.31 530.96 L363.73 528.9 L366.14 526.82 L368.53 524.73 L370.89 522.6 L373.21 520.43 L375.49 518.22 L377.72 515.95 L379.9 513.63 L382.04 511.28 L384.17 508.91 L386.29 506.53 L388.42 504.17 L390.58 501.83 L392.77 499.54 L395.02 497.31 L397.34 495.15 L399.72 493.06 L402.17 491.05 L404.66 489.08 L407.19 487.16 L409.75 485.26 L412.31 483.37 L414.88 481.47 L417.43 479.56 L419.96 477.63 L422.46 475.66 L424.94 473.67 L427.41 471.67 L429.88 469.66 L432.35 467.67 L434.84 465.69 L437.34 463.73 L439.87 461.81 L442.43 459.94 L445.03 458.11 L447.67 456.34 L450.35 454.62 L453.06 452.94 L455.8 451.32 L458.56 449.73 L461.34 448.19 L464.14 446.69 L466.96 445.22 L469.79 443.79 L472.63 442.4 L475.49 441.04 L478.36 439.7 L481.25 438.4 L484.15 437.11 L487.07 435.85 L490.02 434.62 L492.98 433.39 L495.97 432.19 L498.98 431.01 L502.01 429.89 L505.06 428.85 L508.12 427.9 L511.21 427.09 L514.31 426.42 L517.42 425.93 L520.55 425.64 L523.69 425.57 L526.84 425.72 L529.99 426.06 L533.14 426.58 L536.27 427.26 L539.39 428.08 L542.48 429.02 L545.55 430.07 L548.58 431.19 L551.56 432.38 L554.52 433.61 L557.45 434.87 L560.36 436.15 L563.27 437.42 L566.18 438.67 L569.1 439.88 L572.04 441.04 L575.01 442.13 L578.02 443.13 L581.06 444.06 L584.12 444.94 L587.19 445.8 L590.26 446.66 L593.32 447.55 L596.36 448.5 L599.36 449.52 L602.32 450.65 L605.23 451.91 L608.08 453.31 L610.86 454.85 L613.58 456.5 L616.24 458.27 L618.84 460.14 L621.38 462.1 L623.85 464.15 L626.25 466.26 L628.59 468.44 L630.88 470.67 L633.11 472.94 L635.31 475.23 L637.49 477.55 L639.65 479.88 L641.82 482.2 L644 484.5 L646.2 486.78 L648.44 489.03 L650.72 491.23 L653.03 493.4 L655.38 495.54 L657.74 497.66 L660.12 499.77 L662.51 501.88 L664.9 503.98 L667.27 506.1 L669.63 508.24 L671.97 510.4 L674.29 512.57 L676.6 514.76 L678.92 516.94 L681.23 519.12 L683.57 521.27 L685.92 523.41 L688.31 525.5 L690.73 527.55 L693.2 529.55 L695.71 531.49 L698.27 533.37 L700.88 535.2 L703.52 536.97 L706.2 538.68 L708.93 540.34 L711.69 541.94 L714.48 543.48 L717.31 544.96 L720.16 546.4 L723.02 547.83 L725.87 549.27 L728.7 550.73 L731.49 552.24 L734.24 553.83 L736.92 555.51 L739.53 557.31 L742.05 559.24 L744.49 561.3 L746.88 563.43 L749.24 565.6 L751.6 567.77 L753.97 569.91 L756.39 571.97 L758.88 573.92 L761.46 575.71 L764.15 577.31 L766.96 578.73 L769.85 580.01 L772.81 581.17 L775.81 582.27 L778.84 583.34 L781.86 584.41 L784.86 585.52 L787.82 586.72 L790.72 588.03 L793.54 589.46 L796.3 591.01 L799.01 592.64 L801.7 594.33 L804.38 596.05 L807.05 597.78 L809.75 599.49 L812.47 601.17 L815.24 602.78 L818.07 604.31 L820.94 605.74 L823.87 607.07 L826.84 608.29 L829.85 609.38 L832.89 610.33 L835.97 611.14 L839.08 611.8 L842.21 612.28 L845.36 612.6 L848.52 612.75 L851.7 612.77 L854.88 612.67 L858.07 612.46 L861.26 612.16 L864.44 611.78 L867.62 611.35 L870.79 610.88 L873.94 610.38 L877.08 609.85 L880.21 609.31 L883.33 608.75 L886.45 608.18 L889.57 607.61 L892.7 607.04 L895.82 606.48 L898.95 605.92 L902.09 605.37 L905.23 604.83 L908.37 604.26 L911.5 603.67 L914.63 603.04 L917.73 602.35 L920.81 601.6 L923.87 600.76 L926.9 599.83 L929.89 598.8 L932.85 597.67 L935.78 596.46 L938.69 595.18 L941.58 593.83 L944.45 592.45 L947.3 591.02 L950.15 589.58 L952.99 588.12 L955.83 586.67 L958.66 585.22 L961.5 583.77 L964.33 582.32 L967.15 580.87 L969.97 579.4 L972.78 577.93 L975.58 576.43 L978.37 574.91 L981.14 573.37 L983.9 571.8 L986.65 570.21 L989.39 568.6 L992.11 566.96 L994.83 565.31 L997.53 563.64 L1000.23 561.95 L1002.92 560.26 L1005.61 558.55 L1008.29 556.84 L1010.97 555.12 L1013.66 553.42 L1016.36 551.74 L1019.08 550.09 L1021.82 548.48 L1024.58 546.91 L1027.37 545.4 L1030.2 543.95 L1033.07 542.57 L1035.96 541.23 L1038.86 539.93 L1041.77 538.63 L1044.68 537.32 L1047.56 535.98 L1050.41 534.59 L1053.22 533.13 L1055.98 531.58 L1058.68 529.92 L1061.33 528.19 L1063.94 526.38 L1066.51 524.51 L1069.07 522.61 L1071.61 520.68 L1074.15 518.76 L1076.7 516.84 L1079.27 514.96 L1081.86 513.12 L1084.48 511.32 L1087.13 509.57 L1089.8 507.86 L1092.5 506.19 L1095.23 504.55 L1097.97 502.94 L1100.73 501.36 L1103.52 499.8 L1106.31 498.26 L1109.13 496.74 L1111.96 495.26 L1114.82 493.83 L1117.7 492.46 L1120.61 491.16 L1123.54 489.94 L1126.51 488.81 L1129.5 487.79 L1132.53 486.89 L1135.59 486.1 L1138.69 485.41 L1141.8 484.81 L1144.94 484.27 L1148.09 483.8 L1151.25 483.36 L1154.42 482.95 L1157.59 482.54 L1160.76 482.14 L1163.92 481.72 L1167.08 481.3 L1170.24 480.89 L1173.4 480.5 L1176.55 480.13 L1179.71 479.8 L1182.87 479.51 L1186.03 479.27 L1189.19 479.1 L1192.36 479 L1195.53 478.96 L1198.71 478.97 L1201.89 479.04 L1205.07 479.16 L1208.25 479.3 L1211.43 479.48 L1214.61 479.69 L1217.78 479.91 L1220.96 480.14 L1224.13 480.39 L1227.3 480.66 L1230.46 480.97 L1233.62 481.33 L1236.77 481.74 L1239.91 482.2 L1243.05 482.74 L1246.18 483.36 L1249.29 484.06 L1252.39 484.85 L1255.47 485.74 L1258.52 486.74 L1261.52 487.84 L1264.48 489.05 L1267.37 490.37 L1270.2 491.82 L1272.96 493.39 L1275.63 495.09 L1278.23 496.9 L1280.78 498.8 L1283.29 500.76 L1285.77 502.76 L1288.23 504.77 L1290.71 506.78 L1293.21 508.76 L1295.74 510.69 L1298.32 512.54 L1300.95 514.31 L1303.62 516.02 L1306.33 517.68 L1309.07 519.3 L1311.83 520.88 L1314.61 522.44 L1317.39 523.99 L1320.18 525.54 L1322.95 527.1 L1325.72 528.67 L1328.48 530.26 L1331.23 531.87 L1333.95 533.51 L1336.66 535.17 L1339.35 536.87 L1342.01 538.6 L1344.65 540.37 L1347.25 542.18 L1349.83 544.03 L1352.38 545.92 L1354.91 547.85 L1357.42 549.8 L1359.91 551.78 L1362.39 553.77 L1364.86 555.77 L1367.33 557.78 L1369.8 559.78 L1372.26 561.79 L1374.73 563.8 L1377.19 565.8 L1379.65 567.82 L1382.1 569.85 L1384.53 571.89 L1386.96 573.94 L1389.36 576.02 L1391.75 578.12 L1394.11 580.24 L1396.46 582.39 L1398.81 584.54 L1401.15 586.69 L1403.5 588.83 L1405.86 590.95 L1408.25 593.05 L1410.66 595.12 L1413.11 597.14 L1415.6 599.12 L1418.12 601.04 L1420.69 602.92 L1423.29 604.75 L1425.92 606.54 L1428.57 608.3 L1431.24 610.03 L1433.93 611.72 L1436.64 613.4 L1439.36 615.05 L1442.07 616.69 L1444.79 618.33 L1447.5 619.98 L1450.2 621.66 L1452.87 623.37 L1455.52 625.13 L1458.14 626.94 L1460.72 628.82 L1463.25 630.78 L1465.75 632.82 L1468.22 634.88 L1470.69 636.95 L1473.17 638.99 L1475.68 640.97 L1478.23 642.85 L1480.85 644.61 L1483.54 646.2 L1486.34 647.59 L1489.23 648.78 L1492.2 649.81 L1495.24 650.72 L1498.32 651.56 L1501.42 652.37 L1504.52 653.19 L1507.61 654.07 L1510.66 655.05 L1513.65 656.18 L1516.57 657.46 L1519.44 658.87 L1522.28 660.35 L1525.1 661.87 L1527.92 663.37 L1530.75 664.83 L1533.6 666.19 L1536.5 667.41 L1539.46 668.45 L1542.49 669.28 L1545.57 669.94 L1548.7 670.46 L1551.87 670.86 L1555.06 671.17 L1558.27 671.43 L1561.47 671.66 L1564.67 671.9 L1567.85 672.17 L1571 672.5" fill="none" stroke="#ee7022" stroke-width="10.5" stroke-dasharray="15.5 13.5" stroke-dashoffset="-8"/>
<rect x="246" y="181.1" width="97.8" height="68.8" fill="#d6d6d6"/>
<path d="M294.5 186V198.7M294.5 231.3V245" stroke="#1c1c1c" stroke-width="7.6" fill="none"/><use href="#sf" x="294.5" y="215.5"/>
<rect x="678.3" y="181.1" width="97.8" height="68.8" fill="#d6d6d6"/>
<path d="M727.4 186V198.7M727.4 231.3V245" stroke="#1c1c1c" stroke-width="7.9" fill="none"/><use href="#so1" x="727.4" y="215.5"/>
<path d="M246 300H347.2" stroke="#cd4646" stroke-width="8.7" fill="none"/>
<rect x="1274.7" y="280" width="90.3" height="34.7" fill="#e19a8c"/>
<path d="M389.8 975H490.3" stroke="#2d5090" stroke-width="8.5" stroke-dasharray="60 13" fill="none"/>
<path d="M389.8 1036H490.3" stroke="#ee7022" stroke-width="11.8" stroke-dasharray="16.4 13.2" fill="none"/>
<path d="M985.2 975H1086" stroke="#6648a0" stroke-width="11.4" stroke-dasharray="15.6 8.4 3.7 7.2 3.7 8.4" fill="none"/>
<g id="labels" fill="#000" style="font-kerning:none">
<text transform="translate(74.67 64.8) scale(0.9931 1.0300)" font-family='"Liberation Sans", Arial, Helvetica, sans-serif' font-size="50" font-weight="bold">1400</text>
<text transform="translate(74.67 201.45) scale(0.9931 1.0300)" font-family='"Liberation Sans", Arial, Helvetica, sans-serif' font-size="50" font-weight="bold">1200</text>
<text transform="translate(74.67 338.11) scale(0.9931 1.0300)" font-family='"Liberation Sans", Arial, Helvetica, sans-serif' font-size="50" font-weight="bold">1000</text>
<text transform="translate(102.29 474.76) scale(0.9931 1.0300)" font-family='"Liberation Sans", Arial, Helvetica, sans-serif' font-size="50" font-weight="bold">800</text>
<text transform="translate(102.29 611.41) scale(0.9931 1.0300)" font-family='"Liberation Sans", Arial, Helvetica, sans-serif' font-size="50" font-weight="bold">600</text>
<text transform="translate(102.29 748.07) scale(0.9931 1.0300)" font-family='"Liberation Sans", Arial, Helvetica, sans-serif' font-size="50" font-weight="bold">400</text>
<text transform="translate(102.29 884.72) scale(0.9931 1.0300)" font-family='"Liberation Sans", Arial, Helvetica, sans-serif' font-size="50" font-weight="bold">200</text>
<text transform="translate(157.52 1021.37) scale(0.9931 1.0300)" font-family='"Liberation Sans", Arial, Helvetica, sans-serif' font-size="50" font-weight="bold">0</text>
<text transform="translate(175.29 1143.7) scale(1.0078 1.0300)" font-family='"Liberation Sans", Arial, Helvetica, sans-serif' font-size="58" font-weight="bold">0</text>
<text transform="translate(871.01 1117.7) scale(0.9791 1.0000)" font-family='"Liberation Serif", "DejaVu Serif", serif' font-size="59" font-weight="normal" stroke="#000" stroke-width="1.4" stroke-linejoin="round">π</text>
<rect x="869.9" y="1125.1" width="31.2" height="4.9"/>
<text transform="translate(870.15 1176.2) scale(0.9705 1.0200)" font-family='"Liberation Sans", Arial, Helvetica, sans-serif' font-size="58" font-weight="bold">2</text>
<text transform="translate(1566.91 1143.2) scale(0.9826 1.0000)" font-family='"Liberation Serif", "DejaVu Serif", serif' font-size="59" font-weight="normal" stroke="#000" stroke-width="1.4" stroke-linejoin="round">π</text>
<text transform="translate(62.4 471.5) rotate(-90) scale(1 1.02)" font-family='"Liberation Sans", Arial, Helvetica, sans-serif' font-size="57" font-weight="bold" xml:space="preserve">counts  / (<tspan font-family='"Liberation Serif", "DejaVu Serif", serif' font-weight="normal" font-size="60">π</tspan> / 20)</text>
<text transform="translate(1083.28 1161.3) scale(1.0355 1.0000)" font-family='"Liberation Serif", "DejaVu Serif", serif' font-size="64" font-weight="normal">Δ</text>
<text transform="translate(1122.27 1161.3) scale(1.0213 1.0000)" font-family='"Liberation Serif", "DejaVu Serif", serif' font-size="62" font-weight="normal">ϕ</text>
<text transform="translate(1172.36 1155.45) scale(0.9971 0.8300)" font-family='"Liberation Sans", Arial, Helvetica, sans-serif' font-size="59" font-weight="bold">=</text>
<text transform="translate(1226.27 1161.3) scale(1.0213 1.0000)" font-family='"Liberation Serif", "DejaVu Serif", serif' font-size="62" font-weight="normal">ϕ</text>
<text transform="translate(1259.35 1189) scale(0.9822 1.0000)" font-family='"Liberation Sans", Arial, Helvetica, sans-serif' font-size="42" font-weight="normal">ee</text>
<text transform="translate(1321.47 1168.2) scale(1.0429 1.0000)" font-family='"Liberation Serif", "DejaVu Serif", serif' font-size="68" font-weight="normal">−</text>
<text transform="translate(1378.16 1161.3) scale(1.0248 1.0000)" font-family='"Liberation Serif", "DejaVu Serif", serif' font-size="62" font-weight="normal">ϕ</text>
<text transform="translate(1411.02 1189) scale(0.9996 1.0000)" font-family='"Liberation Sans", Arial, Helvetica, sans-serif' font-size="42" font-weight="normal">e</text>
<text transform="translate(0 143.5) scale(1 1.0590)" x="241.13 308.79 366.95 441.01" y="0" font-family='"Liberation Sans", Arial, Helvetica, sans-serif' font-size="99.5" font-weight="bold">STAR</text>
<text transform="translate(604.75 129.7) scale(1.0114 1.0400)" font-family='"Liberation Sans", Arial, Helvetica, sans-serif' font-size="52" font-weight="normal">0.45</text>
<text transform="translate(722.31 129.7) scale(1.0094 1.0400)" font-family='"Liberation Sans", Arial, Helvetica, sans-serif' font-size="52" font-weight="normal">&lt;</text>
<text transform="translate(765.15 129.7) scale(1.0895 1.0400)" font-family='"Liberation Sans", Arial, Helvetica, sans-serif' font-size="52" font-weight="normal">M</text>
<text transform="translate(808.92 142.8) scale(0.9671 1.0000)" font-family='"Liberation Sans", Arial, Helvetica, sans-serif' font-size="36" font-weight="normal">ee</text>
<text transform="translate(861.1 129.7) scale(1.0133 1.0400)" font-family='"Liberation Sans", Arial, Helvetica, sans-serif' font-size="52" font-weight="normal">&lt;</text>
<text transform="translate(906.74 129.7) scale(1.0135 1.0400)" font-family='"Liberation Sans", Arial, Helvetica, sans-serif' font-size="52" font-weight="normal">0.76</text>
<text transform="translate(1024.38 129.7) scale(1.0035 1.0400)" font-family='"Liberation Sans", Arial, Helvetica, sans-serif' font-size="52" font-weight="normal">GeV,</text>
<text transform="translate(1158.03 129.7) scale(1.0009 1.0400)" font-family='"Liberation Sans", Arial, Helvetica, sans-serif' font-size="52" font-weight="normal">P</text>
<text transform="translate(1187.65 156.9) scale(0.9454 1.3800)" font-family='"DejaVu Sans", "Liberation Sans", sans-serif' font-size="39" font-weight="bold">⊥</text>
<text transform="translate(1220.44 129.7) scale(0.9975 1.0400)" font-family='"Liberation Sans", Arial, Helvetica, sans-serif' font-size="52" font-weight="normal">&lt;</text>
<text transform="translate(0 129.7) scale(1 1.0400)" x="1265.84 1295.08 1309.63" y="0" font-family='"Liberation Sans", Arial, Helvetica, sans-serif' font-size="52" font-weight="normal">0.1</text>
<text transform="translate(1352.96 129.7) scale(1.0098 1.0400)" font-family='"Liberation Sans", Arial, Helvetica, sans-serif' font-size="52" font-weight="normal">GeV</text>
<text transform="translate(363 236.5) scale(1.0067 1.0400)" font-family='"Liberation Sans", Arial, Helvetica, sans-serif' font-size="49.6" font-weight="normal">Au+Au</text>
<text transform="translate(528.44 236.5) scale(0.9838 1.0400)" font-family='"Liberation Sans", Arial, Helvetica, sans-serif' font-size="49.6" font-weight="normal">UPC</text>
<text transform="translate(796.5 236.5) scale(1.0013 1.0400)" font-family='"Liberation Sans", Arial, Helvetica, sans-serif' font-size="49.6" font-weight="normal">Au+Au</text>
<text transform="translate(958.66 236.5) scale(1.0092 1.0400)" font-family='"Liberation Sans", Arial, Helvetica, sans-serif' font-size="49.6" font-weight="normal">60-80%</text>
<text transform="translate(1141.27 239.53) scale(1.0969 1.0799)" font-family='"DejaVu Sans Light", "DejaVu Sans", sans-serif' font-size="45" font-weight="normal">×</text>
<text transform="translate(1189.34 236.5) scale(1.0106 1.0400)" font-family='"Liberation Sans", Arial, Helvetica, sans-serif' font-size="49.6" font-weight="normal">0.65</text>
<text transform="translate(365.16 310.5) scale(0.9920 1.0300)" font-family='"Liberation Sans", Arial, Helvetica, sans-serif' font-size="49.6" font-weight="normal">Fit:</text>
<text transform="translate(449.58 310.5) scale(0.9614 1.0400)" font-family='"Liberation Sans", Arial, Helvetica, sans-serif' font-size="49.6" font-weight="normal">C</text>
<text transform="translate(475.13 313.72) scale(1.0955 1.0668)" font-family='"DejaVu Sans Light", "DejaVu Sans", sans-serif' font-size="47" font-weight="normal">×</text>
<text transform="translate(510.36 310.5) scale(0.8897 1.0400)" font-family='"Liberation Sans", Arial, Helvetica, sans-serif' font-size="49.6" font-weight="normal">(</text>
<text transform="translate(540.72 310.5) scale(1.0000 1.0400)" font-family='"Liberation Sans", Arial, Helvetica, sans-serif' font-size="49.6" font-weight="normal">1</text>
<text transform="translate(584.14 310.5) scale(0.9752 1.0400)" font-family='"Liberation Sans", Arial, Helvetica, sans-serif' font-size="49.6" font-weight="normal">+</text>
<text transform="translate(626.3 310.5) scale(1.0003 1.0400)" font-family='"Liberation Sans", Arial, Helvetica, sans-serif' font-size="49.6" font-weight="normal">A</text>
<text transform="translate(658.68 335.2) scale(1.0061 1.0400)" font-family='"Liberation Sans", Arial, Helvetica, sans-serif' font-size="36" font-weight="normal">2</text>
<text transform="translate(676.39 335.2) scale(1.0003 1.0000)" font-family='"Liberation Serif", "DejaVu Serif", serif' font-size="37" font-weight="normal">Δ</text>
<text transform="translate(698.94 335.2) scale(0.9527 1.0000)" font-family='"Liberation Serif", "DejaVu Serif", serif' font-size="33" font-weight="normal">ϕ</text>
<text transform="translate(714.07 310.5) scale(1.0125 1.0000)" font-family='"Liberation Sans", Arial, Helvetica, sans-serif' font-size="49.6" font-weight="normal">cos</text>
<text transform="translate(803.22 310.5) scale(1.1152 1.0400)" font-family='"Liberation Sans", Arial, Helvetica, sans-serif' font-size="49.6" font-weight="normal">2</text>
<text transform="translate(830.41 310.5) scale(1.0066 1.0000)" font-family='"Liberation Serif", "DejaVu Serif", serif' font-size="52" font-weight="normal">Δ</text>
<text transform="translate(862.43 310.5) scale(1.0115 1.0000)" font-family='"Liberation Serif", "DejaVu Serif", serif' font-size="49" font-weight="normal">ϕ</text>
<text transform="translate(900.96 310.5) scale(1.0084 1.0400)" font-family='"Liberation Sans", Arial, Helvetica, sans-serif' font-size="49.6" font-weight="normal">+</text>
<text transform="translate(943.6 310.5) scale(1.0155 1.0400)" font-family='"Liberation Sans", Arial, Helvetica, sans-serif' font-size="49.6" font-weight="normal">A</text>
<text transform="translate(977.01 335.2) scale(0.9537 1.0400)" font-family='"Liberation Sans", Arial, Helvetica, sans-serif' font-size="36" font-weight="normal">4</text>
<text transform="translate(994.62 335.2) scale(0.9051 1.0000)" font-family='"Liberation Serif", "DejaVu Serif", serif' font-size="37" font-weight="normal">Δ</text>
<text transform="translate(1015.77 335.2) scale(1.0123 1.0000)" font-family='"Liberation Serif", "DejaVu Serif", serif' font-size="33" font-weight="normal">ϕ</text>
<text transform="translate(1031.35 310.5) scale(1.0220 1.0000)" font-family='"Liberation Sans", Arial, Helvetica, sans-serif' font-size="49.6" font-weight="normal">cos</text>
<text transform="translate(1122.85 310.5) scale(1.0083 1.0400)" font-family='"Liberation Sans", Arial, Helvetica, sans-serif' font-size="49.6" font-weight="normal">4</text>
<text transform="translate(1148.01 310.5) scale(1.0066 1.0000)" font-family='"Liberation Serif", "DejaVu Serif", serif' font-size="52" font-weight="normal">Δ</text>
<text transform="translate(1180.21 310.5) scale(1.0248 1.0000)" font-family='"Liberation Serif", "DejaVu Serif", serif' font-size="49" font-weight="normal">ϕ</text>
<text transform="translate(1221.95 310.5) scale(0.8441 1.0400)" font-family='"Liberation Sans", Arial, Helvetica, sans-serif' font-size="49.6" font-weight="normal">)</text>
<text transform="translate(1379.79 311) scale(1.0181 1.0000)" font-family='"Liberation Sans", Arial, Helvetica, sans-serif' font-size="56" font-weight="normal">±</text>
<text transform="translate(1421.62 311) scale(1.0000 1.0400)" font-family='"Liberation Sans", Arial, Helvetica, sans-serif' font-size="49.6" font-weight="normal">1</text>
<text transform="translate(1457.46 311) scale(0.9713 1.0000)" font-family='"Liberation Sans", Arial, Helvetica, sans-serif' font-size="50" font-weight="normal">σ</text>
<text transform="translate(390.51 926.6) scale(0.9969 1.0000)" font-family='"Liberation Sans", Arial, Helvetica, sans-serif' font-size="50" font-weight="normal">Polarized</text>
<text transform="translate(612.08 926.6) scale(1.0765 1.0000)" font-family='"Liberation Serif", "DejaVu Serif", serif' font-size="53" font-weight="normal">γγ</text>
<text transform="translate(677.65 935.49) scale(1.0108 1.0885)" font-family='"DejaVu Sans Light", "DejaVu Sans", sans-serif' font-size="61.5" font-weight="normal">→</text>
<text transform="translate(739.85 926.6) scale(1.0101 1.0000)" font-family='"Liberation Sans", Arial, Helvetica, sans-serif' font-size="50" font-weight="normal">e</text>
<text transform="translate(766.55 908) scale(1.0566 1.0400)" font-family='"Liberation Sans", Arial, Helvetica, sans-serif' font-size="30" font-weight="normal">+</text>
<text transform="translate(784.14 926.6) scale(1.0187 1.0000)" font-family='"Liberation Sans", Arial, Helvetica, sans-serif' font-size="50" font-weight="normal">e</text>
<text transform="translate(810.99 910.8) scale(1.1461 1.0000)" font-family='"Liberation Serif", "DejaVu Serif", serif' font-size="30" font-weight="normal">−</text>
<text transform="translate(838.63 926.6) scale(1.1763 1.0000)" font-family='"Liberation Sans", Arial, Helvetica, sans-serif' font-size="50" font-weight="normal">:</text>
<text transform="translate(986.68 926.6) scale(0.9827 1.0100)" font-family='"Liberation Sans", Arial, Helvetica, sans-serif' font-size="50" font-weight="normal">Without</text>
<text transform="translate(1167.81 926.6) scale(0.9960 1.0000)" font-family='"Liberation Sans", Arial, Helvetica, sans-serif' font-size="50" font-weight="normal">Polarization</text>
<text transform="translate(1438.85 926.6) scale(1.3023 1.0000)" font-family='"Liberation Sans", Arial, Helvetica, sans-serif' font-size="50" font-weight="normal">:</text>
<text transform="translate(505.15 983.7) scale(0.9943 1.0400)" font-family='"Liberation Sans", Arial, Helvetica, sans-serif' font-size="50" font-weight="normal">QED</text>
<text transform="translate(1102.05 983.7) scale(0.9907 1.0200)" font-family='"Liberation Sans", Arial, Helvetica, sans-serif' font-size="50" font-weight="normal">STARLight</text>
<text transform="translate(505.22 1046.8) scale(1.0028 1.0200)" font-family='"Liberation Sans", Arial, Helvetica, sans-serif' font-size="50" font-weight="normal">SuperChic</text>
</g>
</svg>
</body>
</html>
